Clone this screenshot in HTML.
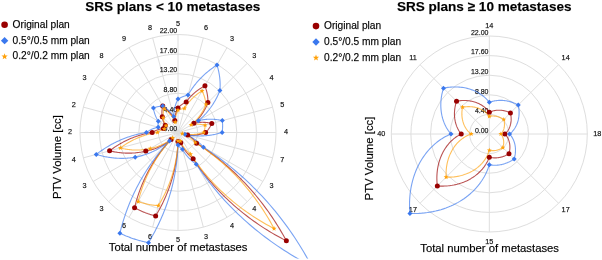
<!DOCTYPE html>
<html><head><meta charset="utf-8"><style>html,body{margin:0;padding:0;background:#fff;width:602px;height:260px;overflow:hidden}svg{display:block;will-change:transform}text{stroke:#000;stroke-width:0.25px;stroke-opacity:0.6}</style></head>
<body><svg width="602" height="260" viewBox="0 0 602 260" font-family='"Liberation Sans", sans-serif'>
<rect width="602" height="260" fill="#fff"/>
<circle cx="178.0" cy="132.5" r="19.60" fill="none" stroke="#dedede" stroke-width="1"/>
<circle cx="178.0" cy="132.5" r="39.20" fill="none" stroke="#dedede" stroke-width="1"/>
<circle cx="178.0" cy="132.5" r="58.80" fill="none" stroke="#dedede" stroke-width="1"/>
<circle cx="178.0" cy="132.5" r="78.40" fill="none" stroke="#dedede" stroke-width="1"/>
<circle cx="178.0" cy="132.5" r="98.00" fill="none" stroke="#dedede" stroke-width="1"/>
<line x1="178.0" y1="132.5" x2="178.00" y2="34.50" stroke="#dedede" stroke-width="1"/>
<line x1="178.0" y1="132.5" x2="203.36" y2="37.84" stroke="#dedede" stroke-width="1"/>
<line x1="178.0" y1="132.5" x2="227.00" y2="47.63" stroke="#dedede" stroke-width="1"/>
<line x1="178.0" y1="132.5" x2="247.30" y2="63.20" stroke="#dedede" stroke-width="1"/>
<line x1="178.0" y1="132.5" x2="262.87" y2="83.50" stroke="#dedede" stroke-width="1"/>
<line x1="178.0" y1="132.5" x2="272.66" y2="107.14" stroke="#dedede" stroke-width="1"/>
<line x1="178.0" y1="132.5" x2="276.00" y2="132.50" stroke="#dedede" stroke-width="1"/>
<line x1="178.0" y1="132.5" x2="272.66" y2="157.86" stroke="#dedede" stroke-width="1"/>
<line x1="178.0" y1="132.5" x2="262.87" y2="181.50" stroke="#dedede" stroke-width="1"/>
<line x1="178.0" y1="132.5" x2="247.30" y2="201.80" stroke="#dedede" stroke-width="1"/>
<line x1="178.0" y1="132.5" x2="227.00" y2="217.37" stroke="#dedede" stroke-width="1"/>
<line x1="178.0" y1="132.5" x2="203.36" y2="227.16" stroke="#dedede" stroke-width="1"/>
<line x1="178.0" y1="132.5" x2="178.00" y2="230.50" stroke="#dedede" stroke-width="1"/>
<line x1="178.0" y1="132.5" x2="152.64" y2="227.16" stroke="#dedede" stroke-width="1"/>
<line x1="178.0" y1="132.5" x2="129.00" y2="217.37" stroke="#dedede" stroke-width="1"/>
<line x1="178.0" y1="132.5" x2="108.70" y2="201.80" stroke="#dedede" stroke-width="1"/>
<line x1="178.0" y1="132.5" x2="93.13" y2="181.50" stroke="#dedede" stroke-width="1"/>
<line x1="178.0" y1="132.5" x2="83.34" y2="157.86" stroke="#dedede" stroke-width="1"/>
<line x1="178.0" y1="132.5" x2="80.00" y2="132.50" stroke="#dedede" stroke-width="1"/>
<line x1="178.0" y1="132.5" x2="83.34" y2="107.14" stroke="#dedede" stroke-width="1"/>
<line x1="178.0" y1="132.5" x2="93.13" y2="83.50" stroke="#dedede" stroke-width="1"/>
<line x1="178.0" y1="132.5" x2="108.70" y2="63.20" stroke="#dedede" stroke-width="1"/>
<line x1="178.0" y1="132.5" x2="129.00" y2="47.63" stroke="#dedede" stroke-width="1"/>
<line x1="178.0" y1="132.5" x2="152.64" y2="37.84" stroke="#dedede" stroke-width="1"/>
<text x="177.20" y="131.20" text-anchor="end" font-size="7" fill="#141414">0.00</text>
<text x="177.20" y="111.60" text-anchor="end" font-size="7" fill="#141414">4.40</text>
<text x="177.20" y="92.00" text-anchor="end" font-size="7" fill="#141414">8.80</text>
<text x="177.20" y="72.40" text-anchor="end" font-size="7" fill="#141414">13.20</text>
<text x="177.20" y="52.80" text-anchor="end" font-size="7" fill="#141414">17.60</text>
<text x="177.20" y="33.20" text-anchor="end" font-size="7" fill="#141414">22.00</text>
<text x="178.00" y="26.45" text-anchor="middle" font-size="7.3" fill="#141414">5</text>
<text x="205.95" y="30.13" text-anchor="middle" font-size="7.3" fill="#141414">6</text>
<text x="232.00" y="40.92" text-anchor="middle" font-size="7.3" fill="#141414">3</text>
<text x="254.37" y="58.08" text-anchor="middle" font-size="7.3" fill="#141414">3</text>
<text x="271.53" y="80.45" text-anchor="middle" font-size="7.3" fill="#141414">4</text>
<text x="282.32" y="106.50" text-anchor="middle" font-size="7.3" fill="#141414">5</text>
<text x="286.00" y="134.45" text-anchor="middle" font-size="7.3" fill="#141414">4</text>
<text x="282.32" y="162.40" text-anchor="middle" font-size="7.3" fill="#141414">7</text>
<text x="271.53" y="188.45" text-anchor="middle" font-size="7.3" fill="#141414">3</text>
<text x="254.37" y="210.82" text-anchor="middle" font-size="7.3" fill="#141414">4</text>
<text x="232.00" y="227.98" text-anchor="middle" font-size="7.3" fill="#141414">4</text>
<text x="205.95" y="238.77" text-anchor="middle" font-size="7.3" fill="#141414">3</text>
<text x="178.00" y="242.45" text-anchor="middle" font-size="7.3" fill="#141414">5</text>
<text x="150.05" y="238.77" text-anchor="middle" font-size="7.3" fill="#141414">6</text>
<text x="124.00" y="227.98" text-anchor="middle" font-size="7.3" fill="#141414">6</text>
<text x="101.63" y="210.82" text-anchor="middle" font-size="7.3" fill="#141414">3</text>
<text x="84.47" y="188.45" text-anchor="middle" font-size="7.3" fill="#141414">3</text>
<text x="73.68" y="162.40" text-anchor="middle" font-size="7.3" fill="#141414">4</text>
<text x="70.00" y="134.45" text-anchor="middle" font-size="7.3" fill="#141414">2</text>
<text x="73.68" y="106.50" text-anchor="middle" font-size="7.3" fill="#141414">2</text>
<text x="84.47" y="80.45" text-anchor="middle" font-size="7.3" fill="#141414">3</text>
<text x="101.63" y="58.08" text-anchor="middle" font-size="7.3" fill="#141414">8</text>
<text x="124.00" y="40.92" text-anchor="middle" font-size="7.3" fill="#141414">9</text>
<text x="150.05" y="30.13" text-anchor="middle" font-size="7.3" fill="#141414">8</text>
<path d="M178.00,108.00 L178.16,107.82 L178.33,107.65 L178.49,107.47 L178.66,107.30 L178.83,107.12 L179.00,106.95 L179.18,106.78 L179.36,106.61 L179.54,106.44 L179.72,106.27 L179.90,106.11 L180.09,105.94 L180.28,105.78 L180.47,105.62 L180.66,105.46 L180.86,105.30 L181.06,105.14 L181.26,104.98 L181.46,104.83 L181.66,104.68 L181.87,104.52 L182.08,104.37 L182.29,104.23 L182.50,104.08 L182.72,103.93 L182.93,103.79 L183.15,103.65 L183.37,103.50 L183.60,103.37 L183.82,103.23 L184.05,103.09 L184.28,102.96 L184.51,102.83 L184.74,102.70 L184.98,102.57 L185.22,102.44 L185.46,102.31 L185.70,102.19 L185.94,102.07 L186.19,101.95 L186.53,101.47 L186.89,100.99 L187.25,100.51 L187.62,100.04 L187.99,99.57 L188.37,99.10 L188.76,98.64 L189.15,98.18 L189.55,97.73 L189.96,97.28 L190.37,96.83 L190.79,96.39 L191.21,95.95 L191.64,95.51 L192.08,95.08 L192.53,94.66 L192.98,94.23 L193.43,93.82 L193.90,93.40 L194.36,92.99 L194.84,92.59 L195.32,92.19 L195.81,91.79 L196.30,91.40 L196.80,91.01 L197.30,90.63 L197.81,90.25 L198.33,89.88 L198.85,89.51 L199.38,89.15 L199.91,88.80 L200.45,88.44 L200.99,88.10 L201.54,87.76 L202.10,87.42 L202.66,87.09 L203.22,86.76 L203.79,86.44 L204.37,86.13 L204.95,85.82 L205.11,86.25 L205.26,86.68 L205.41,87.10 L205.56,87.53 L205.70,87.96 L205.83,88.38 L205.97,88.81 L206.09,89.24 L206.22,89.66 L206.34,90.09 L206.45,90.52 L206.56,90.94 L206.67,91.37 L206.77,91.79 L206.87,92.22 L206.96,92.64 L207.05,93.07 L207.13,93.49 L207.21,93.91 L207.29,94.33 L207.36,94.75 L207.43,95.17 L207.49,95.59 L207.55,96.01 L207.60,96.43 L207.65,96.85 L207.70,97.26 L207.74,97.68 L207.78,98.09 L207.81,98.51 L207.84,98.92 L207.87,99.33 L207.89,99.74 L207.90,100.15 L207.92,100.56 L207.93,100.96 L207.93,101.37 L207.93,101.77 L207.93,102.18 L207.92,102.58 L207.69,103.20 L207.45,103.81 L207.20,104.42 L206.95,105.03 L206.69,105.63 L206.43,106.22 L206.15,106.82 L205.87,107.40 L205.59,107.99 L205.30,108.56 L205.00,109.14 L204.69,109.70 L204.38,110.27 L204.06,110.82 L203.74,111.38 L203.41,111.92 L203.07,112.47 L202.73,113.00 L202.38,113.53 L202.03,114.06 L201.67,114.58 L201.31,115.10 L200.94,115.61 L200.56,116.11 L200.18,116.61 L199.79,117.10 L199.40,117.59 L199.00,118.07 L198.59,118.54 L198.19,119.01 L197.77,119.48 L197.35,119.93 L196.93,120.38 L196.50,120.83 L196.06,121.27 L195.62,121.70 L195.18,122.13 L194.73,122.55 L194.28,122.96 L193.82,123.37 L194.24,123.27 L194.66,123.17 L195.09,123.08 L195.52,122.99 L195.95,122.91 L196.38,122.83 L196.81,122.76 L197.25,122.69 L197.69,122.63 L198.13,122.58 L198.57,122.52 L199.01,122.48 L199.45,122.44 L199.90,122.41 L200.34,122.38 L200.79,122.35 L201.24,122.34 L201.69,122.32 L202.14,122.32 L202.59,122.31 L203.04,122.32 L203.50,122.33 L203.95,122.34 L204.41,122.36 L204.86,122.39 L205.32,122.42 L205.78,122.46 L206.24,122.50 L206.70,122.55 L207.16,122.60 L207.62,122.66 L208.08,122.73 L208.54,122.80 L209.00,122.87 L209.46,122.96 L209.93,123.04 L210.39,123.14 L210.85,123.23 L211.31,123.34 L211.78,123.45 L211.66,123.72 L211.54,123.98 L211.41,124.25 L211.29,124.51 L211.16,124.77 L211.03,125.03 L210.90,125.28 L210.77,125.54 L210.63,125.79 L210.49,126.04 L210.36,126.28 L210.21,126.53 L210.07,126.77 L209.93,127.01 L209.78,127.25 L209.63,127.49 L209.48,127.72 L209.33,127.96 L209.18,128.19 L209.03,128.42 L208.87,128.64 L208.71,128.87 L208.55,129.09 L208.39,129.31 L208.23,129.52 L208.06,129.74 L207.90,129.95 L207.73,130.16 L207.56,130.37 L207.39,130.57 L207.22,130.78 L207.05,130.98 L206.87,131.18 L206.70,131.37 L206.52,131.57 L206.34,131.76 L206.16,131.95 L205.98,132.13 L205.80,132.32 L205.62,132.50 L205.18,132.68 L204.74,132.85 L204.29,133.02 L203.85,133.18 L203.41,133.33 L202.96,133.48 L202.51,133.62 L202.07,133.76 L201.62,133.89 L201.17,134.02 L200.72,134.14 L200.27,134.25 L199.82,134.36 L199.37,134.46 L198.92,134.56 L198.47,134.65 L198.02,134.74 L197.56,134.82 L197.11,134.89 L196.66,134.96 L196.21,135.02 L195.76,135.07 L195.30,135.12 L194.85,135.17 L194.40,135.21 L193.95,135.24 L193.50,135.27 L193.05,135.29 L192.59,135.30 L192.14,135.31 L191.69,135.32 L191.25,135.32 L190.80,135.31 L190.35,135.29 L189.90,135.28 L189.46,135.25 L189.01,135.22 L188.57,135.18 L188.12,135.14 L187.68,135.09 L187.94,135.23 L188.19,135.37 L188.45,135.52 L188.70,135.67 L188.95,135.82 L189.20,135.98 L189.45,136.14 L189.69,136.30 L189.94,136.47 L190.18,136.63 L190.42,136.81 L190.66,136.98 L190.90,137.16 L191.13,137.35 L191.37,137.53 L191.60,137.72 L191.83,137.91 L192.06,138.11 L192.28,138.31 L192.51,138.51 L192.73,138.71 L192.95,138.92 L193.17,139.13 L193.38,139.35 L193.60,139.57 L193.81,139.79 L194.02,140.01 L194.22,140.24 L194.43,140.47 L194.63,140.70 L194.83,140.94 L195.03,141.18 L195.22,141.42 L195.41,141.66 L195.60,141.91 L195.79,142.16 L195.98,142.41 L196.16,142.67 L196.34,142.93 L196.52,143.19 L199.29,144.98 L202.04,146.80 L204.77,148.66 L207.47,150.56 L210.15,152.49 L212.81,154.46 L215.44,156.47 L218.05,158.51 L220.63,160.58 L223.19,162.69 L225.72,164.84 L228.22,167.02 L230.70,169.23 L233.15,171.48 L235.57,173.76 L237.97,176.07 L240.33,178.42 L242.67,180.79 L244.99,183.21 L247.27,185.65 L249.52,188.13 L251.74,190.63 L253.94,193.17 L256.10,195.74 L258.23,198.34 L260.33,200.98 L262.40,203.64 L264.44,206.33 L266.45,209.05 L268.43,211.80 L270.37,214.58 L272.28,217.39 L274.16,220.23 L276.00,223.09 L277.81,225.98 L279.59,228.90 L281.33,231.85 L283.04,234.83 L284.72,237.83 L286.35,240.85 L283.48,239.37 L280.64,237.86 L277.82,236.31 L275.02,234.74 L272.25,233.13 L269.50,231.48 L266.78,229.81 L264.08,228.10 L261.41,226.37 L258.77,224.60 L256.15,222.80 L253.57,220.98 L251.00,219.12 L248.47,217.23 L245.96,215.31 L243.49,213.37 L241.04,211.39 L238.62,209.39 L236.22,207.36 L233.86,205.30 L231.53,203.21 L229.23,201.10 L226.95,198.96 L224.71,196.79 L222.50,194.60 L220.32,192.38 L218.17,190.13 L216.05,187.86 L213.96,185.56 L211.90,183.24 L209.88,180.90 L207.89,178.53 L205.93,176.13 L204.00,173.71 L202.11,171.27 L200.25,168.81 L198.42,166.32 L196.63,163.82 L194.87,161.28 L193.15,158.73 L192.73,158.41 L192.32,158.07 L191.92,157.74 L191.52,157.40 L191.12,157.05 L190.73,156.71 L190.35,156.35 L189.97,156.00 L189.60,155.64 L189.23,155.27 L188.87,154.90 L188.51,154.53 L188.16,154.16 L187.81,153.78 L187.47,153.40 L187.13,153.01 L186.80,152.62 L186.48,152.23 L186.16,151.83 L185.84,151.43 L185.53,151.03 L185.23,150.62 L184.93,150.21 L184.64,149.80 L184.35,149.38 L184.07,148.97 L183.80,148.54 L183.53,148.12 L183.27,147.69 L183.01,147.26 L182.76,146.83 L182.52,146.40 L182.28,145.96 L182.04,145.52 L181.81,145.08 L181.59,144.63 L181.38,144.18 L181.17,143.73 L180.96,143.28 L180.77,142.83 L180.69,142.80 L180.61,142.78 L180.53,142.75 L180.45,142.72 L180.38,142.69 L180.30,142.67 L180.22,142.64 L180.15,142.61 L180.07,142.58 L180.00,142.55 L179.92,142.52 L179.85,142.49 L179.78,142.45 L179.70,142.42 L179.63,142.39 L179.56,142.36 L179.49,142.32 L179.42,142.29 L179.35,142.25 L179.28,142.22 L179.21,142.18 L179.14,142.14 L179.07,142.11 L179.01,142.07 L178.94,142.03 L178.87,141.99 L178.81,141.95 L178.74,141.91 L178.68,141.87 L178.61,141.83 L178.55,141.79 L178.48,141.75 L178.42,141.71 L178.36,141.67 L178.30,141.63 L178.24,141.58 L178.18,141.54 L178.12,141.50 L178.06,141.45 L178.00,141.41 L177.93,143.35 L177.83,145.28 L177.71,147.22 L177.56,149.15 L177.39,151.09 L177.19,153.02 L176.97,154.95 L176.72,156.88 L176.45,158.80 L176.15,160.73 L175.83,162.65 L175.48,164.56 L175.10,166.48 L174.70,168.39 L174.28,170.29 L173.83,172.19 L173.35,174.09 L172.85,175.98 L172.33,177.87 L171.78,179.76 L171.20,181.63 L170.60,183.51 L169.98,185.37 L169.33,187.23 L168.66,189.09 L167.96,190.93 L167.24,192.77 L166.49,194.61 L165.72,196.43 L164.92,198.25 L164.10,200.06 L163.26,201.87 L162.39,203.66 L161.49,205.45 L160.58,207.23 L159.64,208.99 L158.67,210.75 L157.68,212.50 L156.67,214.24 L155.63,215.97 L155.08,215.84 L154.54,215.70 L153.99,215.55 L153.44,215.40 L152.90,215.25 L152.35,215.09 L151.81,214.94 L151.27,214.77 L150.73,214.61 L150.19,214.44 L149.65,214.26 L149.11,214.09 L148.57,213.91 L148.04,213.72 L147.50,213.54 L146.97,213.34 L146.43,213.15 L145.90,212.95 L145.37,212.75 L144.84,212.55 L144.32,212.34 L143.79,212.13 L143.27,211.91 L142.74,211.69 L142.22,211.47 L141.70,211.24 L141.18,211.01 L140.66,210.78 L140.15,210.55 L139.63,210.31 L139.12,210.06 L138.61,209.82 L138.09,209.57 L137.59,209.31 L137.08,209.06 L136.57,208.80 L136.07,208.54 L135.57,208.27 L135.07,208.00 L134.57,207.73 L135.05,205.78 L135.56,203.84 L136.09,201.91 L136.64,199.99 L137.22,198.08 L137.82,196.19 L138.44,194.30 L139.09,192.42 L139.75,190.56 L140.44,188.71 L141.16,186.86 L141.89,185.03 L142.65,183.22 L143.43,181.41 L144.24,179.62 L145.06,177.84 L145.91,176.07 L146.78,174.31 L147.67,172.57 L148.58,170.84 L149.51,169.13 L150.46,167.43 L151.44,165.74 L152.43,164.07 L153.45,162.41 L154.49,160.77 L155.54,159.14 L156.62,157.53 L157.72,155.93 L158.84,154.35 L159.97,152.79 L161.13,151.24 L162.31,149.70 L163.50,148.18 L164.72,146.68 L165.95,145.20 L167.20,143.73 L168.47,142.28 L169.76,140.85 L171.07,139.43 L170.54,139.87 L170.00,140.29 L169.45,140.72 L168.90,141.13 L168.35,141.54 L167.79,141.94 L167.22,142.34 L166.65,142.72 L166.07,143.10 L165.48,143.48 L164.89,143.84 L164.30,144.20 L163.70,144.55 L163.09,144.90 L162.48,145.23 L161.87,145.56 L161.25,145.89 L160.62,146.20 L159.99,146.51 L159.36,146.80 L158.72,147.10 L158.07,147.38 L157.43,147.65 L156.77,147.92 L156.12,148.18 L155.45,148.43 L154.79,148.68 L154.12,148.91 L153.45,149.14 L152.77,149.36 L152.09,149.57 L151.40,149.77 L150.71,149.97 L150.02,150.16 L149.32,150.33 L148.62,150.50 L147.92,150.66 L147.21,150.82 L146.50,150.96 L145.79,151.10 L144.94,151.30 L144.08,151.50 L143.22,151.68 L142.36,151.85 L141.49,152.02 L140.62,152.17 L139.74,152.31 L138.87,152.44 L137.98,152.56 L137.10,152.67 L136.21,152.77 L135.32,152.86 L134.43,152.93 L133.53,153.00 L132.63,153.06 L131.73,153.10 L130.83,153.13 L129.92,153.16 L129.01,153.17 L128.10,153.17 L127.19,153.16 L126.27,153.14 L125.35,153.10 L124.44,153.06 L123.52,153.01 L122.59,152.94 L121.67,152.86 L120.75,152.77 L119.82,152.67 L118.89,152.56 L117.97,152.44 L117.04,152.31 L116.11,152.16 L115.18,152.01 L114.25,151.84 L113.31,151.66 L112.38,151.47 L111.45,151.27 L110.52,151.06 L109.59,150.83 L110.56,150.10 L111.53,149.38 L112.52,148.68 L113.50,147.98 L114.50,147.31 L115.50,146.64 L116.51,145.99 L117.52,145.35 L118.54,144.73 L119.57,144.12 L120.60,143.53 L121.63,142.95 L122.67,142.38 L123.72,141.83 L124.76,141.29 L125.82,140.76 L126.88,140.25 L127.94,139.76 L129.01,139.28 L130.08,138.81 L131.16,138.36 L132.24,137.92 L133.32,137.49 L134.41,137.08 L135.50,136.69 L136.59,136.30 L137.69,135.94 L138.79,135.59 L139.89,135.25 L141.00,134.93 L142.10,134.62 L143.21,134.32 L144.33,134.04 L145.44,133.78 L146.56,133.53 L147.67,133.29 L148.79,133.07 L149.92,132.87 L151.04,132.68 L152.16,132.50 L152.43,132.33 L152.70,132.17 L152.97,132.01 L153.24,131.85 L153.51,131.70 L153.79,131.55 L154.06,131.40 L154.33,131.26 L154.61,131.12 L154.89,130.99 L155.16,130.85 L155.44,130.72 L155.72,130.60 L156.00,130.48 L156.28,130.36 L156.56,130.25 L156.84,130.14 L157.12,130.03 L157.40,129.93 L157.68,129.83 L157.97,129.73 L158.25,129.64 L158.53,129.55 L158.82,129.46 L159.10,129.38 L159.39,129.30 L159.67,129.23 L159.95,129.16 L160.24,129.09 L160.52,129.02 L160.81,128.96 L161.09,128.91 L161.38,128.85 L161.66,128.80 L161.95,128.76 L162.23,128.71 L162.52,128.68 L162.80,128.64 L163.09,128.61 L163.37,128.58 L163.41,128.49 L163.44,128.39 L163.48,128.30 L163.52,128.21 L163.56,128.12 L163.60,128.03 L163.64,127.94 L163.68,127.85 L163.72,127.76 L163.76,127.67 L163.81,127.58 L163.85,127.49 L163.89,127.40 L163.94,127.31 L163.98,127.22 L164.03,127.14 L164.07,127.05 L164.12,126.96 L164.17,126.88 L164.21,126.79 L164.26,126.70 L164.31,126.62 L164.36,126.53 L164.41,126.45 L164.46,126.36 L164.51,126.28 L164.56,126.20 L164.61,126.11 L164.66,126.03 L164.72,125.95 L164.77,125.87 L164.82,125.79 L164.88,125.70 L164.93,125.62 L164.99,125.54 L165.04,125.46 L165.10,125.39 L165.15,125.31 L165.21,125.23 L165.27,125.15 L165.15,124.97 L165.04,124.79 L164.93,124.61 L164.82,124.42 L164.71,124.24 L164.61,124.05 L164.50,123.86 L164.40,123.67 L164.30,123.48 L164.20,123.28 L164.11,123.09 L164.01,122.89 L163.92,122.69 L163.83,122.49 L163.74,122.28 L163.66,122.08 L163.57,121.87 L163.49,121.67 L163.41,121.46 L163.33,121.25 L163.26,121.03 L163.18,120.82 L163.11,120.61 L163.04,120.39 L162.98,120.17 L162.91,119.95 L162.85,119.73 L162.79,119.51 L162.73,119.29 L162.68,119.06 L162.62,118.84 L162.57,118.61 L162.53,118.38 L162.48,118.15 L162.43,117.92 L162.39,117.69 L162.35,117.46 L162.32,117.22 L162.28,116.99 L162.25,116.75 L162.21,116.50 L162.17,116.25 L162.13,116.00 L162.10,115.75 L162.07,115.49 L162.04,115.24 L162.02,114.98 L161.99,114.72 L161.97,114.46 L161.96,114.21 L161.94,113.95 L161.93,113.68 L161.92,113.42 L161.91,113.16 L161.91,112.89 L161.91,112.63 L161.91,112.36 L161.92,112.10 L161.92,111.83 L161.93,111.56 L161.95,111.29 L161.96,111.02 L161.98,110.75 L162.00,110.48 L162.03,110.21 L162.05,109.94 L162.08,109.66 L162.12,109.39 L162.15,109.12 L162.19,108.84 L162.23,108.57 L162.28,108.29 L162.33,108.02 L162.38,107.74 L162.43,107.46 L162.49,107.19 L162.55,106.91 L162.61,106.63 L162.67,106.35 L162.74,106.07 L163.14,106.37 L163.53,106.66 L163.92,106.96 L164.30,107.27 L164.68,107.58 L165.05,107.89 L165.42,108.21 L165.79,108.53 L166.14,108.85 L166.50,109.18 L166.85,109.51 L167.19,109.84 L167.53,110.18 L167.87,110.52 L168.20,110.87 L168.52,111.22 L168.84,111.57 L169.16,111.92 L169.47,112.28 L169.77,112.64 L170.07,113.01 L170.37,113.37 L170.66,113.75 L170.94,114.12 L171.22,114.49 L171.50,114.87 L171.77,115.26 L172.03,115.64 L172.29,116.03 L172.54,116.42 L172.79,116.81 L173.03,117.21 L173.27,117.60 L173.50,118.00 L173.72,118.41 L173.95,118.81 L174.16,119.22 L174.37,119.63 L174.57,120.04 L174.77,120.45 L174.77,120.14 L174.78,119.83 L174.79,119.52 L174.81,119.20 L174.83,118.89 L174.85,118.58 L174.88,118.26 L174.91,117.95 L174.94,117.63 L174.98,117.32 L175.02,117.00 L175.07,116.69 L175.12,116.37 L175.17,116.06 L175.23,115.74 L175.30,115.43 L175.36,115.11 L175.43,114.80 L175.51,114.49 L175.59,114.17 L175.67,113.86 L175.76,113.54 L175.85,113.23 L175.94,112.92 L176.04,112.61 L176.14,112.29 L176.25,111.98 L176.36,111.67 L176.48,111.36 L176.59,111.05 L176.72,110.74 L176.84,110.44 L176.97,110.13 L177.11,109.82 L177.25,109.52 L177.39,109.21 L177.54,108.91 L177.69,108.60 L177.84,108.30 L178.00,108.00" fill="none" stroke="#990000" stroke-width="1.1" stroke-opacity="0.68" stroke-linejoin="round"/>
<path d="M178.00,99.09 L178.22,98.96 L178.44,98.83 L178.66,98.70 L178.89,98.57 L179.11,98.44 L179.34,98.32 L179.57,98.19 L179.80,98.07 L180.04,97.95 L180.27,97.83 L180.51,97.71 L180.75,97.60 L180.99,97.48 L181.23,97.37 L181.47,97.26 L181.72,97.15 L181.96,97.04 L182.21,96.93 L182.46,96.83 L182.71,96.73 L182.96,96.63 L183.22,96.53 L183.47,96.43 L183.73,96.33 L183.99,96.24 L184.25,96.15 L184.51,96.06 L184.77,95.97 L185.03,95.89 L185.30,95.80 L185.57,95.72 L185.84,95.64 L186.10,95.56 L186.38,95.48 L186.65,95.41 L186.92,95.34 L187.20,95.27 L187.47,95.20 L187.75,95.13 L188.03,95.07 L188.54,94.19 L189.05,93.31 L189.58,92.45 L190.12,91.58 L190.67,90.73 L191.24,89.87 L191.81,89.03 L192.40,88.19 L193.00,87.35 L193.61,86.52 L194.23,85.70 L194.86,84.88 L195.51,84.07 L196.16,83.27 L196.83,82.47 L197.51,81.68 L198.20,80.90 L198.90,80.12 L199.61,79.35 L200.33,78.59 L201.06,77.83 L201.81,77.08 L202.56,76.34 L203.33,75.61 L204.11,74.88 L204.89,74.17 L205.69,73.46 L206.50,72.75 L207.32,72.06 L208.14,71.37 L208.98,70.70 L209.83,70.03 L210.69,69.37 L211.56,68.71 L212.44,68.07 L213.33,67.44 L214.22,66.81 L215.13,66.20 L216.05,65.59 L216.98,64.99 L217.18,65.65 L217.38,66.31 L217.57,66.97 L217.75,67.63 L217.93,68.29 L218.10,68.95 L218.26,69.60 L218.42,70.26 L218.57,70.92 L218.71,71.57 L218.85,72.23 L218.97,72.88 L219.10,73.53 L219.21,74.19 L219.32,74.84 L219.42,75.49 L219.52,76.14 L219.60,76.78 L219.69,77.43 L219.76,78.08 L219.83,78.72 L219.89,79.36 L219.95,80.00 L219.99,80.64 L220.04,81.28 L220.07,81.92 L220.10,82.55 L220.12,83.18 L220.14,83.81 L220.15,84.44 L220.15,85.07 L220.15,85.69 L220.14,86.31 L220.12,86.93 L220.10,87.55 L220.07,88.17 L220.03,88.78 L219.99,89.39 L219.95,90.00 L219.89,90.61 L219.53,91.51 L219.16,92.40 L218.78,93.29 L218.39,94.17 L217.99,95.05 L217.58,95.91 L217.16,96.77 L216.73,97.63 L216.29,98.47 L215.84,99.31 L215.39,100.14 L214.92,100.97 L214.45,101.78 L213.96,102.59 L213.47,103.39 L212.96,104.19 L212.45,104.97 L211.93,105.75 L211.40,106.52 L210.87,107.28 L210.32,108.03 L209.77,108.78 L209.20,109.52 L208.63,110.24 L208.05,110.96 L207.47,111.68 L206.87,112.38 L206.27,113.07 L205.66,113.76 L205.04,114.43 L204.41,115.10 L203.78,115.76 L203.14,116.41 L202.49,117.05 L201.83,117.68 L201.17,118.30 L200.50,118.91 L199.82,119.52 L199.14,120.11 L198.45,120.70 L199.01,120.55 L199.57,120.42 L200.14,120.29 L200.71,120.17 L201.28,120.06 L201.85,119.95 L202.43,119.85 L203.00,119.76 L203.59,119.67 L204.17,119.60 L204.75,119.52 L205.34,119.46 L205.93,119.40 L206.52,119.35 L207.11,119.31 L207.71,119.27 L208.30,119.25 L208.90,119.22 L209.50,119.21 L210.10,119.20 L210.70,119.20 L211.31,119.21 L211.91,119.23 L212.52,119.25 L213.12,119.28 L213.73,119.32 L214.34,119.36 L214.95,119.41 L215.56,119.47 L216.17,119.54 L216.79,119.62 L217.40,119.70 L218.01,119.79 L218.63,119.88 L219.24,119.99 L219.86,120.10 L220.47,120.22 L221.09,120.35 L221.70,120.48 L222.32,120.62 L222.35,120.93 L222.38,121.23 L222.41,121.53 L222.44,121.83 L222.47,122.13 L222.49,122.43 L222.51,122.73 L222.53,123.03 L222.55,123.34 L222.56,123.64 L222.58,123.94 L222.59,124.24 L222.60,124.54 L222.60,124.84 L222.61,125.13 L222.61,125.43 L222.61,125.73 L222.61,126.03 L222.61,126.33 L222.61,126.63 L222.60,126.93 L222.59,127.22 L222.58,127.52 L222.57,127.82 L222.55,128.11 L222.54,128.41 L222.52,128.70 L222.50,129.00 L222.47,129.29 L222.45,129.59 L222.42,129.88 L222.40,130.17 L222.37,130.47 L222.33,130.76 L222.30,131.05 L222.26,131.34 L222.23,131.63 L222.19,131.92 L222.14,132.21 L222.10,132.50 L221.17,132.78 L220.25,133.05 L219.32,133.31 L218.39,133.56 L217.46,133.79 L216.52,134.01 L215.59,134.22 L214.66,134.42 L213.72,134.61 L212.78,134.78 L211.84,134.94 L210.91,135.09 L209.97,135.23 L209.03,135.35 L208.09,135.46 L207.15,135.56 L206.21,135.65 L205.27,135.73 L204.33,135.79 L203.39,135.84 L202.46,135.88 L201.52,135.91 L200.58,135.93 L199.65,135.93 L198.71,135.92 L197.78,135.90 L196.85,135.87 L195.91,135.82 L194.98,135.76 L194.06,135.69 L193.13,135.61 L192.20,135.52 L191.28,135.41 L190.36,135.30 L189.44,135.17 L188.53,135.03 L187.61,134.87 L186.70,134.71 L185.79,134.53 L184.88,134.34 L185.41,134.54 L185.93,134.74 L186.45,134.94 L186.97,135.16 L187.48,135.38 L188.00,135.60 L188.51,135.84 L189.01,136.08 L189.52,136.33 L190.02,136.58 L190.52,136.84 L191.02,137.11 L191.51,137.38 L192.00,137.67 L192.49,137.95 L192.97,138.25 L193.45,138.55 L193.93,138.86 L194.40,139.17 L194.87,139.49 L195.34,139.82 L195.80,140.15 L196.26,140.49 L196.72,140.83 L197.17,141.19 L197.62,141.54 L198.06,141.91 L198.51,142.28 L198.94,142.66 L199.37,143.04 L199.80,143.43 L200.23,143.82 L200.65,144.23 L201.06,144.63 L201.47,145.05 L201.88,145.47 L202.28,145.89 L202.68,146.32 L203.07,146.76 L203.46,147.20 L206.80,149.38 L210.12,151.61 L213.41,153.88 L216.66,156.19 L219.89,158.55 L223.09,160.95 L226.27,163.40 L229.41,165.88 L232.52,168.41 L235.59,170.98 L238.64,173.60 L241.66,176.25 L244.64,178.95 L247.59,181.68 L250.51,184.46 L253.39,187.28 L256.24,190.13 L259.06,193.03 L261.84,195.96 L264.58,198.94 L267.29,201.95 L269.97,205.00 L272.61,208.09 L275.21,211.22 L277.77,214.38 L280.30,217.58 L282.79,220.82 L285.24,224.09 L287.65,227.40 L290.03,230.75 L292.36,234.12 L294.66,237.54 L296.91,240.99 L299.13,244.47 L301.30,247.99 L303.44,251.53 L305.53,255.12 L307.58,258.73 L309.59,262.38 L311.55,266.05 L308.00,264.21 L304.48,262.33 L300.99,260.41 L297.52,258.45 L294.09,256.45 L290.70,254.41 L287.33,252.33 L283.99,250.22 L280.69,248.06 L277.42,245.87 L274.18,243.64 L270.98,241.37 L267.81,239.06 L264.68,236.72 L261.58,234.34 L258.51,231.92 L255.48,229.47 L252.49,226.99 L249.53,224.47 L246.61,221.91 L243.72,219.32 L240.87,216.70 L238.06,214.04 L235.29,211.35 L232.55,208.63 L229.86,205.87 L227.20,203.09 L224.58,200.27 L221.99,197.42 L219.45,194.54 L216.95,191.63 L214.49,188.69 L212.07,185.72 L209.69,182.72 L207.34,179.69 L205.05,176.63 L202.79,173.55 L200.57,170.44 L198.40,167.30 L196.26,164.13 L195.82,163.84 L195.38,163.53 L194.95,163.23 L194.52,162.92 L194.09,162.60 L193.67,162.28 L193.25,161.96 L192.84,161.63 L192.44,161.30 L192.04,160.97 L191.64,160.63 L191.25,160.28 L190.87,159.93 L190.49,159.58 L190.11,159.23 L189.74,158.87 L189.38,158.51 L189.02,158.14 L188.66,157.77 L188.31,157.40 L187.97,157.02 L187.63,156.64 L187.30,156.26 L186.97,155.87 L186.65,155.48 L186.33,155.09 L186.02,154.69 L185.72,154.29 L185.42,153.89 L185.12,153.49 L184.84,153.08 L184.55,152.67 L184.28,152.25 L184.00,151.84 L183.74,151.42 L183.48,150.99 L183.22,150.57 L182.98,150.14 L182.73,149.71 L182.50,149.28 L182.36,149.19 L182.22,149.10 L182.08,149.01 L181.94,148.92 L181.81,148.82 L181.67,148.73 L181.54,148.63 L181.41,148.53 L181.28,148.44 L181.15,148.34 L181.02,148.24 L180.90,148.14 L180.77,148.03 L180.65,147.93 L180.53,147.83 L180.41,147.72 L180.29,147.62 L180.18,147.51 L180.06,147.40 L179.95,147.30 L179.84,147.19 L179.73,147.08 L179.62,146.97 L179.51,146.85 L179.40,146.74 L179.30,146.63 L179.20,146.51 L179.09,146.40 L178.99,146.28 L178.90,146.17 L178.80,146.05 L178.70,145.93 L178.61,145.82 L178.52,145.70 L178.43,145.58 L178.34,145.46 L178.25,145.34 L178.17,145.22 L178.08,145.09 L178.00,144.97 L177.90,147.51 L177.77,150.05 L177.61,152.59 L177.41,155.12 L177.18,157.65 L176.91,160.19 L176.61,162.71 L176.28,165.24 L175.92,167.76 L175.52,170.28 L175.09,172.80 L174.63,175.31 L174.13,177.82 L173.61,180.32 L173.04,182.82 L172.45,185.31 L171.82,187.79 L171.16,190.27 L170.47,192.75 L169.74,195.21 L168.99,197.67 L168.19,200.13 L167.37,202.57 L166.52,205.01 L165.63,207.44 L164.71,209.86 L163.76,212.27 L162.77,214.67 L161.75,217.06 L160.71,219.44 L159.63,221.81 L158.51,224.18 L157.37,226.53 L156.19,228.87 L154.99,231.19 L153.75,233.51 L152.48,235.81 L151.18,238.11 L149.85,240.38 L148.49,242.65 L147.75,242.51 L147.02,242.36 L146.28,242.21 L145.55,242.05 L144.82,241.89 L144.08,241.73 L143.35,241.55 L142.62,241.38 L141.89,241.20 L141.17,241.01 L140.44,240.82 L139.71,240.63 L138.99,240.42 L138.26,240.22 L137.54,240.01 L136.81,239.79 L136.09,239.57 L135.37,239.35 L134.65,239.12 L133.93,238.88 L133.22,238.65 L132.50,238.40 L131.79,238.15 L131.07,237.90 L130.36,237.64 L129.65,237.38 L128.94,237.11 L128.23,236.83 L127.53,236.56 L126.82,236.27 L126.12,235.99 L125.42,235.69 L124.72,235.40 L124.02,235.10 L123.32,234.79 L122.63,234.48 L121.94,234.16 L121.25,233.84 L120.56,233.52 L119.87,233.19 L120.53,230.56 L121.22,227.94 L121.94,225.33 L122.70,222.74 L123.49,220.17 L124.30,217.60 L125.15,215.06 L126.03,212.52 L126.94,210.00 L127.89,207.50 L128.86,205.02 L129.86,202.54 L130.89,200.09 L131.95,197.65 L133.05,195.23 L134.17,192.83 L135.32,190.44 L136.50,188.07 L137.71,185.72 L138.95,183.39 L140.22,181.08 L141.51,178.78 L142.84,176.51 L144.19,174.25 L145.57,172.01 L146.98,169.80 L148.42,167.60 L149.88,165.42 L151.37,163.27 L152.89,161.13 L154.43,159.02 L156.00,156.93 L157.60,154.86 L159.22,152.81 L160.87,150.79 L162.55,148.79 L164.25,146.81 L165.97,144.85 L167.72,142.91 L169.50,141.00 L168.77,141.61 L168.04,142.20 L167.31,142.78 L166.56,143.35 L165.81,143.92 L165.05,144.47 L164.28,145.02 L163.50,145.56 L162.72,146.08 L161.92,146.60 L161.13,147.10 L160.32,147.60 L159.50,148.09 L158.68,148.57 L157.86,149.03 L157.02,149.49 L156.18,149.93 L155.33,150.37 L154.48,150.80 L153.62,151.21 L152.75,151.62 L151.87,152.01 L150.99,152.39 L150.11,152.77 L149.21,153.13 L148.32,153.48 L147.41,153.82 L146.50,154.15 L145.59,154.47 L144.67,154.77 L143.74,155.07 L142.81,155.35 L141.87,155.63 L140.93,155.89 L139.98,156.14 L139.03,156.38 L138.07,156.61 L137.11,156.82 L136.15,157.03 L135.18,157.22 L134.25,157.38 L133.32,157.52 L132.39,157.65 L131.45,157.77 L130.51,157.88 L129.57,157.98 L128.62,158.07 L127.67,158.14 L126.72,158.21 L125.76,158.26 L124.80,158.30 L123.84,158.33 L122.88,158.35 L121.91,158.36 L120.94,158.35 L119.97,158.34 L119.00,158.31 L118.02,158.27 L117.04,158.22 L116.06,158.16 L115.08,158.08 L114.10,157.99 L113.11,157.90 L112.13,157.79 L111.14,157.66 L110.15,157.53 L109.16,157.39 L108.17,157.23 L107.18,157.06 L106.19,156.88 L105.19,156.68 L104.20,156.48 L103.21,156.26 L102.21,156.03 L101.22,155.79 L100.22,155.54 L99.23,155.27 L98.23,155.00 L97.24,154.71 L96.25,154.41 L97.39,153.54 L98.54,152.68 L99.69,151.84 L100.86,151.02 L102.03,150.21 L103.21,149.42 L104.39,148.65 L105.58,147.89 L106.78,147.15 L107.99,146.43 L109.20,145.72 L110.42,145.03 L111.64,144.35 L112.87,143.69 L114.11,143.05 L115.35,142.42 L116.59,141.81 L117.85,141.22 L119.10,140.65 L120.37,140.09 L121.63,139.55 L122.90,139.02 L124.18,138.51 L125.46,138.02 L126.74,137.55 L128.03,137.09 L129.32,136.65 L130.62,136.23 L131.91,135.82 L133.22,135.44 L134.52,135.06 L135.83,134.71 L137.14,134.37 L138.45,134.05 L139.77,133.75 L141.08,133.47 L142.40,133.20 L143.73,132.95 L145.05,132.72 L146.37,132.50 L146.65,132.29 L146.93,132.09 L147.21,131.90 L147.50,131.70 L147.78,131.51 L148.07,131.32 L148.35,131.14 L148.64,130.96 L148.93,130.79 L149.22,130.61 L149.51,130.45 L149.80,130.28 L150.09,130.12 L150.39,129.96 L150.68,129.81 L150.98,129.66 L151.27,129.51 L151.57,129.37 L151.87,129.23 L152.16,129.10 L152.46,128.97 L152.76,128.84 L153.06,128.72 L153.36,128.60 L153.66,128.48 L153.96,128.37 L154.27,128.26 L154.57,128.16 L154.87,128.06 L155.17,127.96 L155.48,127.87 L155.78,127.78 L156.08,127.69 L156.39,127.61 L156.69,127.53 L156.99,127.46 L157.30,127.39 L157.60,127.32 L157.90,127.26 L158.21,127.20 L158.19,127.05 L158.17,126.91 L158.15,126.76 L158.14,126.62 L158.13,126.47 L158.11,126.32 L158.10,126.18 L158.09,126.03 L158.08,125.88 L158.07,125.73 L158.06,125.59 L158.05,125.44 L158.05,125.29 L158.04,125.14 L158.04,124.99 L158.04,124.84 L158.04,124.69 L158.04,124.54 L158.04,124.38 L158.04,124.23 L158.04,124.08 L158.05,123.93 L158.05,123.78 L158.06,123.62 L158.07,123.47 L158.08,123.32 L158.09,123.16 L158.10,123.01 L158.11,122.85 L158.12,122.70 L158.14,122.54 L158.15,122.39 L158.17,122.23 L158.19,122.08 L158.21,121.92 L158.23,121.77 L158.25,121.61 L158.28,121.45 L158.30,121.30 L158.33,121.14 L158.14,120.86 L157.96,120.58 L157.78,120.29 L157.60,120.00 L157.43,119.71 L157.26,119.41 L157.09,119.12 L156.93,118.82 L156.77,118.51 L156.61,118.21 L156.46,117.90 L156.30,117.59 L156.16,117.27 L156.01,116.96 L155.87,116.64 L155.73,116.32 L155.59,116.00 L155.46,115.67 L155.33,115.34 L155.21,115.01 L155.08,114.68 L154.96,114.34 L154.85,114.00 L154.74,113.66 L154.63,113.32 L154.52,112.97 L154.42,112.63 L154.32,112.28 L154.23,111.93 L154.14,111.57 L154.05,111.22 L153.97,110.86 L153.89,110.50 L153.81,110.14 L153.74,109.78 L153.67,109.41 L153.60,109.04 L153.54,108.67 L153.48,108.30 L153.43,107.93 L153.67,107.85 L153.90,107.76 L154.14,107.68 L154.37,107.60 L154.61,107.53 L154.85,107.45 L155.08,107.38 L155.32,107.31 L155.55,107.24 L155.79,107.17 L156.02,107.11 L156.26,107.04 L156.49,106.98 L156.73,106.93 L156.96,106.87 L157.20,106.81 L157.43,106.76 L157.67,106.71 L157.90,106.66 L158.14,106.61 L158.37,106.57 L158.60,106.52 L158.84,106.48 L159.07,106.44 L159.30,106.41 L159.53,106.37 L159.77,106.34 L160.00,106.31 L160.23,106.28 L160.46,106.25 L160.69,106.22 L160.92,106.20 L161.15,106.18 L161.38,106.16 L161.61,106.14 L161.84,106.12 L162.06,106.11 L162.29,106.09 L162.52,106.08 L162.74,106.07 L163.09,106.28 L163.43,106.49 L163.77,106.70 L164.11,106.92 L164.44,107.14 L164.77,107.36 L165.10,107.58 L165.42,107.81 L165.74,108.04 L166.06,108.28 L166.37,108.52 L166.68,108.76 L166.98,109.00 L167.28,109.25 L167.58,109.50 L167.87,109.75 L168.16,110.01 L168.45,110.27 L168.73,110.53 L169.01,110.79 L169.28,111.06 L169.55,111.33 L169.82,111.60 L170.08,111.87 L170.34,112.15 L170.60,112.43 L170.85,112.71 L171.09,113.00 L171.34,113.28 L171.57,113.57 L171.81,113.86 L172.04,114.16 L172.27,114.45 L172.49,114.75 L172.71,115.05 L172.92,115.35 L173.13,115.66 L173.34,115.96 L173.54,116.27 L173.73,116.58 L173.73,116.14 L173.73,115.70 L173.74,115.27 L173.76,114.83 L173.78,114.39 L173.80,113.95 L173.83,113.51 L173.87,113.07 L173.91,112.63 L173.96,112.18 L174.01,111.74 L174.07,111.30 L174.14,110.86 L174.21,110.42 L174.28,109.98 L174.36,109.53 L174.45,109.09 L174.54,108.65 L174.64,108.21 L174.74,107.77 L174.85,107.33 L174.97,106.89 L175.09,106.45 L175.22,106.01 L175.35,105.57 L175.49,105.13 L175.63,104.69 L175.78,104.26 L175.93,103.82 L176.09,103.39 L176.26,102.95 L176.43,102.52 L176.61,102.09 L176.79,101.65 L176.98,101.22 L177.17,100.79 L177.37,100.37 L177.57,99.94 L177.78,99.51 L178.00,99.09" fill="none" stroke="#3a78ee" stroke-width="1.1" stroke-opacity="0.68" stroke-linejoin="round"/>
<path d="M178.00,110.23 L178.15,110.16 L178.29,110.10 L178.44,110.03 L178.59,109.97 L178.74,109.91 L178.89,109.84 L179.04,109.78 L179.19,109.72 L179.35,109.67 L179.50,109.61 L179.66,109.55 L179.81,109.50 L179.97,109.44 L180.12,109.39 L180.28,109.34 L180.44,109.29 L180.60,109.24 L180.76,109.19 L180.92,109.14 L181.08,109.09 L181.24,109.05 L181.41,109.00 L181.57,108.96 L181.74,108.92 L181.90,108.88 L182.07,108.84 L182.23,108.80 L182.40,108.76 L182.57,108.72 L182.74,108.69 L182.91,108.66 L183.08,108.62 L183.25,108.59 L183.42,108.56 L183.59,108.53 L183.76,108.50 L183.93,108.48 L184.11,108.45 L184.28,108.43 L184.46,108.40 L184.77,107.89 L185.09,107.38 L185.41,106.87 L185.74,106.36 L186.08,105.86 L186.43,105.36 L186.78,104.86 L187.14,104.37 L187.51,103.88 L187.88,103.39 L188.26,102.91 L188.65,102.43 L189.04,101.96 L189.44,101.49 L189.85,101.02 L190.26,100.56 L190.68,100.10 L191.11,99.65 L191.54,99.20 L191.98,98.75 L192.42,98.31 L192.88,97.87 L193.33,97.44 L193.80,97.01 L194.27,96.59 L194.75,96.17 L195.23,95.76 L195.72,95.35 L196.22,94.95 L196.72,94.55 L197.22,94.15 L197.74,93.76 L198.26,93.38 L198.78,93.00 L199.31,92.63 L199.85,92.26 L200.39,91.89 L200.94,91.54 L201.50,91.18 L202.05,90.84 L202.22,91.18 L202.38,91.52 L202.54,91.86 L202.69,92.20 L202.85,92.54 L202.99,92.89 L203.14,93.23 L203.28,93.57 L203.42,93.91 L203.55,94.26 L203.68,94.60 L203.81,94.94 L203.94,95.29 L204.06,95.63 L204.17,95.97 L204.29,96.32 L204.40,96.66 L204.51,97.00 L204.61,97.35 L204.71,97.69 L204.81,98.03 L204.90,98.37 L204.99,98.72 L205.08,99.06 L205.16,99.40 L205.25,99.74 L205.32,100.08 L205.40,100.42 L205.47,100.76 L205.54,101.10 L205.60,101.44 L205.66,101.78 L205.72,102.12 L205.77,102.46 L205.82,102.79 L205.87,103.13 L205.92,103.46 L205.96,103.80 L206.00,104.13 L206.03,104.47 L205.78,105.08 L205.52,105.69 L205.25,106.30 L204.98,106.90 L204.70,107.49 L204.41,108.08 L204.12,108.67 L203.82,109.25 L203.51,109.83 L203.20,110.40 L202.88,110.96 L202.56,111.53 L202.23,112.08 L201.89,112.63 L201.54,113.18 L201.19,113.72 L200.84,114.25 L200.48,114.78 L200.11,115.30 L199.73,115.82 L199.35,116.33 L198.97,116.84 L198.58,117.34 L198.18,117.84 L197.78,118.33 L197.37,118.81 L196.96,119.29 L196.54,119.76 L196.12,120.22 L195.69,120.68 L195.25,121.14 L194.81,121.58 L194.37,122.02 L193.92,122.46 L193.46,122.88 L193.00,123.31 L192.54,123.72 L192.07,124.13 L191.59,124.53 L191.12,124.93 L191.45,124.85 L191.78,124.78 L192.11,124.72 L192.45,124.66 L192.78,124.60 L193.12,124.55 L193.46,124.50 L193.80,124.45 L194.14,124.41 L194.48,124.37 L194.82,124.34 L195.17,124.31 L195.51,124.29 L195.86,124.27 L196.21,124.25 L196.56,124.24 L196.91,124.23 L197.26,124.23 L197.61,124.23 L197.96,124.23 L198.31,124.24 L198.67,124.25 L199.02,124.27 L199.38,124.29 L199.73,124.32 L200.09,124.35 L200.44,124.39 L200.80,124.43 L201.16,124.47 L201.52,124.52 L201.87,124.57 L202.23,124.63 L202.59,124.69 L202.95,124.75 L203.31,124.82 L203.67,124.90 L204.03,124.97 L204.39,125.06 L204.75,125.14 L205.11,125.24 L205.10,125.43 L205.09,125.62 L205.08,125.81 L205.07,126.00 L205.06,126.19 L205.05,126.38 L205.03,126.57 L205.01,126.76 L205.00,126.95 L204.98,127.13 L204.96,127.32 L204.94,127.51 L204.91,127.69 L204.89,127.88 L204.86,128.06 L204.84,128.25 L204.81,128.43 L204.78,128.62 L204.75,128.80 L204.72,128.98 L204.69,129.16 L204.65,129.35 L204.62,129.53 L204.58,129.71 L204.54,129.89 L204.50,130.06 L204.46,130.24 L204.42,130.42 L204.38,130.60 L204.34,130.77 L204.29,130.95 L204.25,131.12 L204.20,131.30 L204.15,131.47 L204.10,131.65 L204.05,131.82 L204.00,131.99 L203.95,132.16 L203.89,132.33 L203.84,132.50 L203.30,132.67 L202.77,132.82 L202.23,132.98 L201.69,133.12 L201.15,133.26 L200.61,133.39 L200.07,133.51 L199.53,133.63 L198.99,133.74 L198.45,133.84 L197.90,133.94 L197.36,134.02 L196.82,134.11 L196.28,134.18 L195.73,134.25 L195.19,134.31 L194.65,134.36 L194.10,134.41 L193.56,134.44 L193.02,134.48 L192.47,134.50 L191.93,134.52 L191.39,134.53 L190.85,134.53 L190.31,134.53 L189.77,134.52 L189.23,134.50 L188.69,134.48 L188.15,134.45 L187.61,134.41 L187.08,134.37 L186.54,134.32 L186.01,134.26 L185.47,134.19 L184.94,134.12 L184.41,134.04 L183.88,133.95 L183.35,133.86 L182.83,133.76 L182.30,133.65 L182.67,133.78 L183.04,133.92 L183.40,134.06 L183.77,134.21 L184.13,134.36 L184.49,134.51 L184.85,134.67 L185.20,134.84 L185.56,135.01 L185.91,135.18 L186.26,135.36 L186.61,135.55 L186.95,135.74 L187.30,135.93 L187.64,136.13 L187.98,136.33 L188.32,136.54 L188.65,136.75 L188.99,136.97 L189.32,137.19 L189.65,137.41 L189.97,137.64 L190.29,137.88 L190.62,138.12 L190.93,138.36 L191.25,138.61 L191.56,138.86 L191.87,139.12 L192.18,139.38 L192.48,139.64 L192.78,139.91 L193.08,140.18 L193.38,140.46 L193.67,140.74 L193.96,141.03 L194.25,141.32 L194.53,141.62 L194.81,141.91 L195.09,142.22 L195.36,142.52 L197.79,144.10 L200.20,145.71 L202.60,147.35 L204.97,149.03 L207.32,150.73 L209.65,152.47 L211.95,154.23 L214.24,156.03 L216.50,157.86 L218.74,159.72 L220.96,161.61 L223.15,163.53 L225.33,165.48 L227.47,167.46 L229.60,169.47 L231.70,171.51 L233.77,173.58 L235.82,175.68 L237.85,177.80 L239.85,179.96 L241.82,182.14 L243.77,184.35 L245.69,186.58 L247.58,188.85 L249.45,191.14 L251.29,193.46 L253.11,195.80 L254.89,198.17 L256.65,200.57 L258.38,202.99 L260.08,205.44 L261.75,207.91 L263.40,210.41 L265.01,212.93 L266.60,215.48 L268.15,218.05 L269.68,220.64 L271.17,223.26 L272.64,225.91 L274.07,228.57 L271.49,227.22 L268.93,225.85 L266.40,224.44 L263.89,223.01 L261.40,221.54 L258.93,220.05 L256.49,218.53 L254.07,216.98 L251.67,215.40 L249.30,213.80 L246.95,212.17 L244.63,210.51 L242.33,208.82 L240.05,207.11 L237.80,205.37 L235.58,203.61 L233.38,201.82 L231.21,200.00 L229.07,198.16 L226.95,196.29 L224.86,194.40 L222.79,192.48 L220.75,190.54 L218.74,188.58 L216.76,186.59 L214.80,184.57 L212.88,182.54 L210.98,180.48 L209.11,178.40 L207.26,176.30 L205.45,174.17 L203.67,172.03 L201.91,169.86 L200.19,167.67 L198.49,165.46 L196.83,163.23 L195.19,160.98 L193.59,158.70 L192.02,156.41 L190.47,154.10 L190.13,153.84 L189.80,153.57 L189.47,153.29 L189.14,153.01 L188.81,152.73 L188.49,152.45 L188.18,152.16 L187.87,151.87 L187.56,151.57 L187.26,151.28 L186.96,150.98 L186.67,150.67 L186.38,150.37 L186.09,150.06 L185.81,149.74 L185.54,149.43 L185.27,149.11 L185.00,148.79 L184.74,148.47 L184.48,148.14 L184.22,147.81 L183.98,147.48 L183.73,147.14 L183.49,146.81 L183.26,146.47 L183.03,146.12 L182.80,145.78 L182.58,145.43 L182.36,145.08 L182.15,144.73 L181.95,144.38 L181.74,144.02 L181.55,143.67 L181.36,143.31 L181.17,142.94 L180.99,142.58 L180.81,142.21 L180.64,141.85 L180.47,141.48 L180.31,141.11 L180.25,141.11 L180.19,141.11 L180.13,141.12 L180.07,141.12 L180.01,141.12 L179.95,141.12 L179.89,141.13 L179.83,141.13 L179.78,141.13 L179.72,141.13 L179.66,141.13 L179.60,141.13 L179.54,141.13 L179.48,141.13 L179.42,141.13 L179.37,141.12 L179.31,141.12 L179.25,141.12 L179.19,141.12 L179.13,141.11 L179.08,141.11 L179.02,141.10 L178.96,141.10 L178.90,141.09 L178.85,141.09 L178.79,141.08 L178.73,141.08 L178.67,141.07 L178.62,141.06 L178.56,141.06 L178.50,141.05 L178.45,141.04 L178.39,141.03 L178.33,141.02 L178.28,141.01 L178.22,141.01 L178.17,141.00 L178.11,140.99 L178.06,140.97 L178.00,140.96 L177.93,142.65 L177.85,144.33 L177.73,146.01 L177.60,147.68 L177.45,149.36 L177.27,151.04 L177.07,152.71 L176.85,154.39 L176.61,156.06 L176.35,157.73 L176.06,159.39 L175.75,161.05 L175.42,162.71 L175.07,164.37 L174.70,166.03 L174.30,167.68 L173.89,169.32 L173.45,170.96 L172.99,172.60 L172.51,174.24 L172.00,175.86 L171.48,177.49 L170.93,179.11 L170.36,180.72 L169.77,182.33 L169.16,183.93 L168.53,185.53 L167.88,187.12 L167.20,188.70 L166.51,190.28 L165.79,191.85 L165.05,193.41 L164.29,194.97 L163.51,196.52 L162.71,198.06 L161.89,199.59 L161.05,201.12 L160.19,202.64 L159.30,204.15 L158.40,205.65 L157.90,205.61 L157.39,205.58 L156.88,205.54 L156.38,205.49 L155.87,205.45 L155.37,205.40 L154.86,205.34 L154.35,205.28 L153.84,205.22 L153.34,205.16 L152.83,205.09 L152.32,205.02 L151.81,204.94 L151.30,204.86 L150.80,204.78 L150.29,204.69 L149.78,204.61 L149.27,204.51 L148.76,204.42 L148.25,204.31 L147.74,204.21 L147.24,204.10 L146.73,203.99 L146.22,203.88 L145.71,203.76 L145.21,203.64 L144.70,203.51 L144.19,203.38 L143.68,203.25 L143.18,203.11 L142.67,202.97 L142.16,202.83 L141.66,202.68 L141.15,202.53 L140.65,202.38 L140.14,202.22 L139.64,202.06 L139.14,201.89 L138.63,201.73 L138.13,201.55 L138.59,199.73 L139.08,197.93 L139.58,196.12 L140.11,194.33 L140.66,192.55 L141.23,190.78 L141.82,189.02 L142.43,187.27 L143.07,185.53 L143.72,183.80 L144.40,182.08 L145.10,180.37 L145.82,178.67 L146.56,176.99 L147.32,175.32 L148.10,173.66 L148.90,172.01 L149.72,170.37 L150.56,168.75 L151.42,167.13 L152.31,165.53 L153.21,163.95 L154.13,162.38 L155.07,160.82 L156.03,159.27 L157.01,157.74 L158.01,156.22 L159.02,154.72 L160.06,153.23 L161.11,151.76 L162.18,150.30 L163.28,148.85 L164.38,147.42 L165.51,146.01 L166.66,144.61 L167.82,143.23 L169.00,141.86 L170.20,140.51 L171.41,139.17 L172.65,137.85 L172.17,138.25 L171.70,138.64 L171.22,139.02 L170.73,139.40 L170.24,139.77 L169.74,140.13 L169.24,140.49 L168.73,140.85 L168.22,141.19 L167.70,141.53 L167.18,141.86 L166.65,142.19 L166.12,142.51 L165.58,142.83 L165.04,143.13 L164.50,143.43 L163.95,143.73 L163.39,144.01 L162.84,144.29 L162.27,144.57 L161.71,144.83 L161.14,145.09 L160.56,145.35 L159.98,145.59 L159.40,145.83 L158.81,146.06 L158.22,146.29 L157.63,146.50 L157.03,146.71 L156.43,146.92 L155.82,147.11 L155.21,147.30 L154.60,147.48 L153.98,147.65 L153.36,147.82 L152.74,147.98 L152.12,148.13 L151.49,148.27 L150.86,148.41 L150.22,148.54 L149.52,148.70 L148.81,148.85 L148.10,148.99 L147.39,149.12 L146.67,149.25 L145.95,149.36 L145.23,149.47 L144.50,149.57 L143.77,149.66 L143.04,149.74 L142.31,149.81 L141.57,149.87 L140.84,149.93 L140.09,149.97 L139.35,150.01 L138.61,150.04 L137.86,150.06 L137.11,150.07 L136.36,150.07 L135.61,150.06 L134.86,150.04 L134.10,150.01 L133.35,149.98 L132.59,149.93 L131.83,149.88 L131.07,149.81 L130.31,149.74 L129.54,149.66 L128.78,149.57 L128.02,149.47 L127.25,149.36 L126.48,149.24 L125.72,149.11 L124.95,148.97 L124.18,148.83 L123.42,148.67 L122.65,148.50 L121.88,148.33 L121.11,148.14 L120.34,147.95 L121.19,147.32 L122.05,146.71 L122.91,146.11 L123.77,145.52 L124.64,144.94 L125.52,144.38 L126.40,143.82 L127.28,143.28 L128.17,142.75 L129.07,142.23 L129.97,141.73 L130.87,141.23 L131.78,140.75 L132.69,140.29 L133.61,139.83 L134.53,139.38 L135.46,138.95 L136.38,138.53 L137.32,138.13 L138.25,137.73 L139.19,137.35 L140.13,136.98 L141.08,136.63 L142.03,136.28 L142.98,135.95 L143.93,135.63 L144.89,135.32 L145.85,135.03 L146.81,134.75 L147.77,134.48 L148.74,134.23 L149.71,133.98 L150.68,133.75 L151.65,133.54 L152.62,133.33 L153.60,133.14 L154.57,132.96 L155.55,132.79 L156.53,132.64 L157.51,132.50 L157.67,132.37 L157.82,132.24 L157.98,132.11 L158.14,131.98 L158.30,131.86 L158.46,131.73 L158.62,131.61 L158.78,131.49 L158.95,131.38 L159.11,131.26 L159.27,131.15 L159.44,131.04 L159.60,130.93 L159.77,130.82 L159.94,130.72 L160.10,130.62 L160.27,130.52 L160.44,130.42 L160.61,130.33 L160.78,130.23 L160.95,130.14 L161.12,130.05 L161.29,129.96 L161.46,129.88 L161.63,129.80 L161.80,129.72 L161.97,129.64 L162.14,129.56 L162.32,129.49 L162.49,129.41 L162.66,129.34 L162.84,129.28 L163.01,129.21 L163.18,129.15 L163.36,129.09 L163.53,129.03 L163.71,128.97 L163.88,128.91 L164.06,128.86 L164.23,128.81 L164.27,128.72 L164.30,128.64 L164.34,128.55 L164.38,128.46 L164.41,128.38 L164.45,128.29 L164.49,128.21 L164.53,128.12 L164.57,128.04 L164.61,127.95 L164.65,127.87 L164.69,127.79 L164.73,127.70 L164.77,127.62 L164.82,127.54 L164.86,127.46 L164.90,127.37 L164.95,127.29 L164.99,127.21 L165.04,127.13 L165.08,127.05 L165.13,126.97 L165.17,126.89 L165.22,126.81 L165.27,126.73 L165.32,126.65 L165.37,126.58 L165.42,126.50 L165.47,126.42 L165.52,126.34 L165.57,126.27 L165.62,126.19 L165.67,126.11 L165.72,126.04 L165.77,125.96 L165.83,125.89 L165.88,125.82 L165.93,125.74 L165.99,125.67 L166.04,125.60 L165.93,125.43 L165.83,125.26 L165.72,125.09 L165.62,124.91 L165.52,124.74 L165.42,124.56 L165.32,124.38 L165.22,124.20 L165.13,124.02 L165.04,123.84 L164.95,123.65 L164.86,123.47 L164.77,123.28 L164.69,123.09 L164.60,122.90 L164.52,122.71 L164.44,122.51 L164.37,122.32 L164.29,122.12 L164.22,121.92 L164.15,121.72 L164.08,121.52 L164.01,121.32 L163.94,121.12 L163.88,120.91 L163.82,120.71 L163.76,120.50 L163.71,120.29 L163.65,120.08 L163.60,119.87 L163.55,119.66 L163.50,119.44 L163.45,119.23 L163.41,119.01 L163.37,118.80 L163.33,118.58 L163.29,118.36 L163.26,118.14 L163.23,117.92 L163.20,117.70 L163.18,117.48 L163.16,117.26 L163.14,117.05 L163.13,116.83 L163.12,116.61 L163.11,116.39 L163.10,116.17 L163.10,115.95 L163.09,115.73 L163.09,115.50 L163.10,115.28 L163.10,115.06 L163.11,114.83 L163.12,114.61 L163.13,114.38 L163.14,114.15 L163.16,113.92 L163.18,113.70 L163.20,113.47 L163.22,113.24 L163.25,113.01 L163.27,112.78 L163.30,112.55 L163.34,112.32 L163.37,112.09 L163.41,111.86 L163.45,111.62 L163.49,111.39 L163.54,111.16 L163.58,110.93 L163.63,110.69 L163.69,110.46 L163.74,110.22 L163.80,109.99 L163.86,109.76 L163.92,109.52 L163.98,109.29 L164.05,109.05 L164.12,108.82 L164.19,108.58 L164.56,108.86 L164.92,109.14 L165.28,109.43 L165.63,109.72 L165.98,110.01 L166.32,110.31 L166.66,110.61 L167.00,110.91 L167.33,111.22 L167.66,111.53 L167.98,111.84 L168.30,112.16 L168.61,112.48 L168.92,112.80 L169.22,113.13 L169.52,113.46 L169.82,113.79 L170.10,114.12 L170.39,114.46 L170.67,114.80 L170.95,115.15 L171.22,115.50 L171.48,115.85 L171.74,116.20 L172.00,116.55 L172.25,116.91 L172.50,117.27 L172.74,117.64 L172.97,118.00 L173.20,118.37 L173.43,118.74 L173.65,119.11 L173.87,119.49 L174.08,119.87 L174.28,120.24 L174.48,120.63 L174.68,121.01 L174.87,121.40 L175.05,121.78 L175.23,122.17 L175.23,121.88 L175.23,121.58 L175.23,121.28 L175.23,120.98 L175.24,120.68 L175.26,120.38 L175.27,120.08 L175.30,119.78 L175.32,119.48 L175.35,119.17 L175.38,118.87 L175.42,118.57 L175.46,118.27 L175.50,117.97 L175.55,117.67 L175.60,117.37 L175.66,117.06 L175.72,116.76 L175.78,116.46 L175.85,116.16 L175.92,115.86 L175.99,115.56 L176.07,115.26 L176.16,114.96 L176.24,114.66 L176.33,114.36 L176.43,114.06 L176.53,113.76 L176.63,113.46 L176.73,113.16 L176.84,112.87 L176.96,112.57 L177.07,112.28 L177.19,111.98 L177.32,111.69 L177.45,111.39 L177.58,111.10 L177.72,110.81 L177.86,110.52 L178.00,110.23" fill="none" stroke="#ffa10a" stroke-width="1.1" stroke-opacity="0.68" stroke-linejoin="round"/>
<circle cx="178.00" cy="108.00" r="2.5" fill="#990000"/>
<circle cx="186.19" cy="101.95" r="2.5" fill="#990000"/>
<circle cx="204.95" cy="85.82" r="2.5" fill="#990000"/>
<circle cx="207.92" cy="102.58" r="2.5" fill="#990000"/>
<circle cx="193.82" cy="123.37" r="2.5" fill="#990000"/>
<circle cx="211.78" cy="123.45" r="2.5" fill="#990000"/>
<circle cx="205.62" cy="132.50" r="2.5" fill="#990000"/>
<circle cx="187.68" cy="135.09" r="2.5" fill="#990000"/>
<circle cx="196.52" cy="143.19" r="2.5" fill="#990000"/>
<circle cx="286.35" cy="240.85" r="2.5" fill="#990000"/>
<circle cx="193.15" cy="158.73" r="2.5" fill="#990000"/>
<circle cx="180.77" cy="142.83" r="2.5" fill="#990000"/>
<circle cx="178.00" cy="141.41" r="2.5" fill="#990000"/>
<circle cx="155.63" cy="215.97" r="2.5" fill="#990000"/>
<circle cx="134.57" cy="207.73" r="2.5" fill="#990000"/>
<circle cx="171.07" cy="139.43" r="2.5" fill="#990000"/>
<circle cx="145.79" cy="151.10" r="2.5" fill="#990000"/>
<circle cx="109.59" cy="150.83" r="2.5" fill="#990000"/>
<circle cx="152.16" cy="132.50" r="2.5" fill="#990000"/>
<circle cx="163.37" cy="128.58" r="2.5" fill="#990000"/>
<circle cx="165.27" cy="125.15" r="2.5" fill="#990000"/>
<circle cx="162.25" cy="116.75" r="2.5" fill="#990000"/>
<circle cx="162.74" cy="106.07" r="2.5" fill="#990000"/>
<circle cx="174.77" cy="120.45" r="2.5" fill="#990000"/>
<path d="M178.00,96.59 L180.50,99.09 L178.00,101.59 L175.50,99.09Z" fill="#3a78ee"/>
<path d="M188.03,92.57 L190.53,95.07 L188.03,97.57 L185.53,95.07Z" fill="#3a78ee"/>
<path d="M216.98,62.49 L219.48,64.99 L216.98,67.49 L214.48,64.99Z" fill="#3a78ee"/>
<path d="M219.89,88.11 L222.39,90.61 L219.89,93.11 L217.39,90.61Z" fill="#3a78ee"/>
<path d="M198.45,118.20 L200.95,120.70 L198.45,123.20 L195.95,120.70Z" fill="#3a78ee"/>
<path d="M222.32,118.12 L224.82,120.62 L222.32,123.12 L219.82,120.62Z" fill="#3a78ee"/>
<path d="M222.10,130.00 L224.60,132.50 L222.10,135.00 L219.60,132.50Z" fill="#3a78ee"/>
<path d="M184.88,131.84 L187.38,134.34 L184.88,136.84 L182.38,134.34Z" fill="#3a78ee"/>
<path d="M203.46,144.70 L205.96,147.20 L203.46,149.70 L200.96,147.20Z" fill="#3a78ee"/>
<path d="M311.55,263.55 L314.05,266.05 L311.55,268.55 L309.05,266.05Z" fill="#3a78ee"/>
<path d="M196.26,161.63 L198.76,164.13 L196.26,166.63 L193.76,164.13Z" fill="#3a78ee"/>
<path d="M182.50,146.78 L185.00,149.28 L182.50,151.78 L180.00,149.28Z" fill="#3a78ee"/>
<path d="M178.00,142.47 L180.50,144.97 L178.00,147.47 L175.50,144.97Z" fill="#3a78ee"/>
<path d="M148.49,240.15 L150.99,242.65 L148.49,245.15 L145.99,242.65Z" fill="#3a78ee"/>
<path d="M119.87,230.69 L122.37,233.19 L119.87,235.69 L117.37,233.19Z" fill="#3a78ee"/>
<path d="M169.50,138.50 L172.00,141.00 L169.50,143.50 L167.00,141.00Z" fill="#3a78ee"/>
<path d="M135.18,154.72 L137.68,157.22 L135.18,159.72 L132.68,157.22Z" fill="#3a78ee"/>
<path d="M96.25,151.91 L98.75,154.41 L96.25,156.91 L93.75,154.41Z" fill="#3a78ee"/>
<path d="M146.37,130.00 L148.87,132.50 L146.37,135.00 L143.87,132.50Z" fill="#3a78ee"/>
<path d="M158.21,124.70 L160.71,127.20 L158.21,129.70 L155.71,127.20Z" fill="#3a78ee"/>
<path d="M158.33,118.64 L160.83,121.14 L158.33,123.64 L155.83,121.14Z" fill="#3a78ee"/>
<path d="M153.43,105.43 L155.93,107.93 L153.43,110.43 L150.93,107.93Z" fill="#3a78ee"/>
<path d="M162.74,103.57 L165.24,106.07 L162.74,108.57 L160.24,106.07Z" fill="#3a78ee"/>
<path d="M173.73,114.08 L176.23,116.58 L173.73,119.08 L171.23,116.58Z" fill="#3a78ee"/>
<polygon points="178.00,107.63 178.64,109.34 180.47,109.42 179.04,110.56 179.53,112.33 178.00,111.32 176.47,112.33 176.96,110.56 175.53,109.42 177.36,109.34" fill="#ffa10a"/>
<polygon points="184.46,105.80 185.10,107.52 186.93,107.60 185.49,108.74 185.98,110.51 184.46,109.50 182.93,110.51 183.42,108.74 181.98,107.60 183.81,107.52" fill="#ffa10a"/>
<polygon points="202.05,88.24 202.70,89.95 204.53,90.03 203.09,91.17 203.58,92.94 202.05,91.93 200.53,92.94 201.02,91.17 199.58,90.03 201.41,89.95" fill="#ffa10a"/>
<polygon points="206.03,101.87 206.68,103.58 208.51,103.66 207.07,104.80 207.56,106.57 206.03,105.56 204.51,106.57 205.00,104.80 203.56,103.66 205.39,103.58" fill="#ffa10a"/>
<polygon points="191.12,122.33 191.76,124.04 193.59,124.12 192.15,125.26 192.64,127.03 191.12,126.02 189.59,127.03 190.08,125.26 188.64,124.12 190.47,124.04" fill="#ffa10a"/>
<polygon points="205.11,122.64 205.75,124.35 207.58,124.43 206.15,125.57 206.64,127.34 205.11,126.33 203.58,127.34 204.07,125.57 202.63,124.43 204.47,124.35" fill="#ffa10a"/>
<polygon points="203.84,129.90 204.48,131.62 206.31,131.70 204.87,132.84 205.36,134.60 203.84,133.59 202.31,134.60 202.80,132.84 201.36,131.70 203.19,131.62" fill="#ffa10a"/>
<polygon points="182.30,131.05 182.94,132.77 184.78,132.85 183.34,133.99 183.83,135.76 182.30,134.74 180.77,135.76 181.26,133.99 179.83,132.85 181.66,132.77" fill="#ffa10a"/>
<polygon points="195.36,139.92 196.00,141.64 197.83,141.72 196.40,142.86 196.89,144.63 195.36,143.61 193.83,144.63 194.32,142.86 192.89,141.72 194.72,141.64" fill="#ffa10a"/>
<polygon points="274.07,225.97 274.71,227.69 276.54,227.77 275.11,228.91 275.60,230.67 274.07,229.66 272.54,230.67 273.03,228.91 271.60,227.77 273.43,227.69" fill="#ffa10a"/>
<polygon points="190.47,151.50 191.11,153.22 192.95,153.30 191.51,154.44 192.00,156.21 190.47,155.20 188.94,156.21 189.43,154.44 188.00,153.30 189.83,153.22" fill="#ffa10a"/>
<polygon points="180.31,138.51 180.95,140.22 182.78,140.30 181.34,141.44 181.83,143.21 180.31,142.20 178.78,143.21 179.27,141.44 177.83,140.30 179.66,140.22" fill="#ffa10a"/>
<polygon points="178.00,138.36 178.64,140.08 180.47,140.16 179.04,141.30 179.53,143.07 178.00,142.06 176.47,143.07 176.96,141.30 175.53,140.16 177.36,140.08" fill="#ffa10a"/>
<polygon points="158.40,203.05 159.04,204.76 160.87,204.84 159.44,205.98 159.93,207.75 158.40,206.74 156.87,207.75 157.36,205.98 155.93,204.84 157.76,204.76" fill="#ffa10a"/>
<polygon points="138.13,198.95 138.77,200.67 140.60,200.75 139.17,201.89 139.66,203.66 138.13,202.65 136.60,203.66 137.09,201.89 135.66,200.75 137.49,200.67" fill="#ffa10a"/>
<polygon points="172.65,135.25 173.29,136.97 175.12,137.05 173.68,138.19 174.17,139.96 172.65,138.95 171.12,139.96 171.61,138.19 170.17,137.05 172.00,136.97" fill="#ffa10a"/>
<polygon points="150.22,145.94 150.87,147.65 152.70,147.73 151.26,148.87 151.75,150.64 150.22,149.63 148.70,150.64 149.19,148.87 147.75,147.73 149.58,147.65" fill="#ffa10a"/>
<polygon points="120.34,145.35 120.98,147.07 122.82,147.15 121.38,148.29 121.87,150.05 120.34,149.04 118.81,150.05 119.30,148.29 117.87,147.15 119.70,147.07" fill="#ffa10a"/>
<polygon points="157.51,129.90 158.15,131.62 159.98,131.70 158.55,132.84 159.04,134.60 157.51,133.59 155.98,134.60 156.47,132.84 155.04,131.70 156.87,131.62" fill="#ffa10a"/>
<polygon points="164.23,126.21 164.87,127.93 166.70,128.01 165.27,129.15 165.76,130.91 164.23,129.90 162.70,130.91 163.19,129.15 161.76,128.01 163.59,127.93" fill="#ffa10a"/>
<polygon points="166.04,123.00 166.68,124.71 168.51,124.79 167.08,125.93 167.57,127.70 166.04,126.69 164.51,127.70 165.00,125.93 163.57,124.79 165.40,124.71" fill="#ffa10a"/>
<polygon points="163.20,115.10 163.84,116.81 165.67,116.89 164.23,118.03 164.72,119.80 163.20,118.79 161.67,119.80 162.16,118.03 160.72,116.89 162.55,116.81" fill="#ffa10a"/>
<polygon points="164.19,105.98 164.83,107.70 166.66,107.78 165.23,108.92 165.72,110.69 164.19,109.67 162.66,110.69 163.15,108.92 161.72,107.78 163.55,107.70" fill="#ffa10a"/>
<polygon points="175.23,119.57 175.87,121.29 177.71,121.37 176.27,122.51 176.76,124.28 175.23,123.27 173.70,124.28 174.19,122.51 172.76,121.37 174.59,121.29" fill="#ffa10a"/>
<circle cx="489.3" cy="134.0" r="19.60" fill="none" stroke="#dedede" stroke-width="1"/>
<circle cx="489.3" cy="134.0" r="39.20" fill="none" stroke="#dedede" stroke-width="1"/>
<circle cx="489.3" cy="134.0" r="58.80" fill="none" stroke="#dedede" stroke-width="1"/>
<circle cx="489.3" cy="134.0" r="78.40" fill="none" stroke="#dedede" stroke-width="1"/>
<circle cx="489.3" cy="134.0" r="98.00" fill="none" stroke="#dedede" stroke-width="1"/>
<line x1="489.3" y1="134.0" x2="489.30" y2="36.00" stroke="#dedede" stroke-width="1"/>
<line x1="489.3" y1="134.0" x2="558.60" y2="64.70" stroke="#dedede" stroke-width="1"/>
<line x1="489.3" y1="134.0" x2="587.30" y2="134.00" stroke="#dedede" stroke-width="1"/>
<line x1="489.3" y1="134.0" x2="558.60" y2="203.30" stroke="#dedede" stroke-width="1"/>
<line x1="489.3" y1="134.0" x2="489.30" y2="232.00" stroke="#dedede" stroke-width="1"/>
<line x1="489.3" y1="134.0" x2="420.00" y2="203.30" stroke="#dedede" stroke-width="1"/>
<line x1="489.3" y1="134.0" x2="391.30" y2="134.00" stroke="#dedede" stroke-width="1"/>
<line x1="489.3" y1="134.0" x2="420.00" y2="64.70" stroke="#dedede" stroke-width="1"/>
<text x="488.50" y="132.70" text-anchor="end" font-size="7" fill="#141414">0.00</text>
<text x="488.50" y="113.10" text-anchor="end" font-size="7" fill="#141414">4.40</text>
<text x="488.50" y="93.50" text-anchor="end" font-size="7" fill="#141414">8.80</text>
<text x="488.50" y="73.90" text-anchor="end" font-size="7" fill="#141414">13.20</text>
<text x="488.50" y="54.30" text-anchor="end" font-size="7" fill="#141414">17.60</text>
<text x="488.50" y="34.70" text-anchor="end" font-size="7" fill="#141414">22.00</text>
<text x="489.30" y="27.95" text-anchor="middle" font-size="7.3" fill="#141414">14</text>
<text x="565.67" y="59.58" text-anchor="middle" font-size="7.3" fill="#141414">14</text>
<text x="597.30" y="135.95" text-anchor="middle" font-size="7.3" fill="#141414">18</text>
<text x="565.67" y="212.32" text-anchor="middle" font-size="7.3" fill="#141414">17</text>
<text x="489.30" y="243.95" text-anchor="middle" font-size="7.3" fill="#141414">15</text>
<text x="412.93" y="212.32" text-anchor="middle" font-size="7.3" fill="#141414">17</text>
<text x="381.30" y="135.95" text-anchor="middle" font-size="7.3" fill="#141414">40</text>
<text x="412.93" y="59.58" text-anchor="middle" font-size="7.3" fill="#141414">11</text>
<path d="M489.30,112.31 L489.73,112.11 L490.17,111.92 L490.61,111.73 L491.07,111.56 L491.53,111.40 L491.99,111.24 L492.47,111.10 L492.95,110.96 L493.44,110.84 L493.93,110.72 L494.43,110.62 L494.94,110.53 L495.45,110.45 L495.96,110.37 L496.48,110.32 L497.01,110.27 L497.54,110.23 L498.08,110.21 L498.62,110.19 L499.16,110.19 L499.71,110.20 L500.26,110.23 L500.81,110.26 L501.37,110.31 L501.93,110.37 L502.49,110.45 L503.05,110.54 L503.62,110.64 L504.18,110.75 L504.75,110.88 L505.32,111.02 L505.88,111.17 L506.45,111.34 L507.02,111.52 L507.59,111.72 L508.15,111.93 L508.72,112.15 L509.28,112.38 L509.84,112.63 L510.40,112.90 L510.56,113.56 L510.69,114.22 L510.81,114.89 L510.91,115.54 L510.99,116.20 L511.06,116.85 L511.11,117.49 L511.14,118.13 L511.15,118.77 L511.15,119.40 L511.13,120.02 L511.10,120.64 L511.05,121.25 L510.99,121.85 L510.91,122.45 L510.81,123.04 L510.70,123.62 L510.58,124.19 L510.44,124.75 L510.29,125.31 L510.12,125.85 L509.95,126.38 L509.75,126.91 L509.55,127.42 L509.33,127.92 L509.11,128.41 L508.87,128.89 L508.62,129.36 L508.36,129.82 L508.09,130.26 L507.81,130.70 L507.51,131.12 L507.21,131.52 L506.91,131.92 L506.59,132.30 L506.26,132.66 L505.93,133.02 L505.59,133.36 L505.24,133.69 L504.89,134.00 L505.19,134.31 L505.49,134.64 L505.78,134.97 L506.06,135.32 L506.34,135.68 L506.61,136.05 L506.87,136.43 L507.12,136.82 L507.36,137.23 L507.59,137.64 L507.82,138.06 L508.03,138.50 L508.24,138.94 L508.43,139.40 L508.62,139.86 L508.79,140.33 L508.95,140.81 L509.10,141.30 L509.24,141.80 L509.36,142.31 L509.48,142.83 L509.58,143.35 L509.67,143.88 L509.74,144.41 L509.80,144.96 L509.85,145.51 L509.88,146.06 L509.90,146.63 L509.91,147.19 L509.90,147.77 L509.88,148.34 L509.84,148.92 L509.79,149.51 L509.72,150.10 L509.64,150.69 L509.54,151.29 L509.42,151.88 L509.29,152.48 L509.15,153.08 L508.99,153.69 L508.52,153.98 L508.04,154.27 L507.56,154.55 L507.08,154.81 L506.59,155.07 L506.10,155.31 L505.61,155.55 L505.11,155.77 L504.62,155.98 L504.12,156.18 L503.62,156.36 L503.11,156.54 L502.61,156.71 L502.10,156.86 L501.60,157.01 L501.09,157.14 L500.58,157.26 L500.07,157.37 L499.57,157.47 L499.06,157.56 L498.55,157.64 L498.05,157.71 L497.54,157.76 L497.04,157.81 L496.53,157.84 L496.03,157.87 L495.53,157.88 L495.04,157.89 L494.54,157.88 L494.05,157.87 L493.56,157.84 L493.07,157.80 L492.59,157.76 L492.11,157.70 L491.63,157.63 L491.15,157.56 L490.68,157.47 L490.22,157.38 L489.76,157.28 L489.30,157.16 L488.82,158.42 L488.29,159.66 L487.71,160.89 L487.09,162.11 L486.41,163.31 L485.69,164.50 L484.92,165.67 L484.10,166.82 L483.24,167.95 L482.33,169.06 L481.37,170.15 L480.37,171.21 L479.32,172.24 L478.23,173.25 L477.10,174.23 L475.92,175.18 L474.70,176.10 L473.44,176.98 L472.14,177.84 L470.80,178.65 L469.43,179.43 L468.01,180.18 L466.56,180.88 L465.07,181.55 L463.55,182.17 L461.99,182.76 L460.41,183.30 L458.79,183.79 L457.14,184.24 L455.46,184.65 L453.75,185.01 L452.02,185.32 L450.26,185.58 L448.47,185.79 L446.66,185.95 L444.83,186.06 L442.99,186.12 L441.12,186.12 L439.23,186.08 L437.33,185.97 L437.14,184.15 L437.00,182.35 L436.91,180.56 L436.87,178.78 L436.87,177.02 L436.93,175.28 L437.04,173.56 L437.19,171.86 L437.39,170.18 L437.63,168.52 L437.92,166.89 L438.25,165.28 L438.63,163.70 L439.05,162.14 L439.51,160.62 L440.00,159.12 L440.54,157.65 L441.12,156.21 L441.73,154.81 L442.38,153.43 L443.07,152.09 L443.79,150.79 L444.54,149.52 L445.32,148.29 L446.14,147.09 L446.98,145.93 L447.86,144.81 L448.76,143.73 L449.68,142.69 L450.63,141.69 L451.61,140.73 L452.61,139.81 L453.62,138.93 L454.66,138.10 L455.72,137.31 L456.79,136.56 L457.88,135.85 L458.99,135.19 L460.11,134.57 L461.24,134.00 L460.79,133.44 L460.35,132.86 L459.92,132.27 L459.50,131.65 L459.10,131.03 L458.71,130.38 L458.34,129.72 L457.97,129.04 L457.63,128.34 L457.30,127.63 L456.98,126.91 L456.68,126.17 L456.40,125.42 L456.14,124.65 L455.89,123.87 L455.66,123.07 L455.45,122.26 L455.26,121.44 L455.09,120.61 L454.94,119.77 L454.80,118.91 L454.69,118.05 L454.60,117.17 L454.53,116.28 L454.48,115.39 L454.46,114.49 L454.45,113.58 L454.47,112.66 L454.51,111.73 L454.58,110.80 L454.66,109.86 L454.78,108.92 L454.91,107.97 L455.07,107.02 L455.25,106.06 L455.46,105.10 L455.69,104.14 L455.95,103.17 L456.23,102.21 L456.54,101.24 L457.62,101.05 L458.69,100.89 L459.75,100.75 L460.81,100.65 L461.86,100.57 L462.91,100.52 L463.94,100.50 L464.97,100.51 L465.98,100.54 L466.98,100.60 L467.98,100.69 L468.96,100.80 L469.92,100.94 L470.88,101.10 L471.82,101.29 L472.74,101.50 L473.65,101.74 L474.55,102.00 L475.42,102.28 L476.28,102.58 L477.13,102.90 L477.95,103.25 L478.76,103.61 L479.55,104.00 L480.32,104.40 L481.07,104.82 L481.80,105.26 L482.51,105.72 L483.20,106.19 L483.87,106.68 L484.51,107.19 L485.14,107.71 L485.74,108.24 L486.32,108.79 L486.87,109.35 L487.40,109.92 L487.91,110.50 L488.40,111.09 L488.86,111.69 L489.30,112.31" fill="none" stroke="#990000" stroke-width="1.1" stroke-opacity="0.68" stroke-linejoin="round"/>
<path d="M489.30,102.37 L489.93,102.15 L490.56,101.93 L491.20,101.73 L491.85,101.54 L492.51,101.36 L493.18,101.20 L493.86,101.05 L494.54,100.91 L495.23,100.79 L495.93,100.69 L496.63,100.59 L497.34,100.52 L498.05,100.46 L498.77,100.41 L499.50,100.38 L500.23,100.36 L500.96,100.36 L501.70,100.38 L502.45,100.41 L503.19,100.46 L503.94,100.52 L504.70,100.61 L505.45,100.70 L506.21,100.82 L506.97,100.95 L507.72,101.10 L508.49,101.27 L509.25,101.45 L510.01,101.65 L510.77,101.87 L511.53,102.11 L512.29,102.36 L513.05,102.63 L513.80,102.92 L514.56,103.22 L515.31,103.55 L516.06,103.89 L516.80,104.25 L517.54,104.63 L518.28,105.02 L518.47,105.95 L518.63,106.88 L518.77,107.81 L518.89,108.73 L518.98,109.64 L519.04,110.55 L519.09,111.45 L519.10,112.35 L519.10,113.23 L519.07,114.11 L519.02,114.98 L518.94,115.83 L518.85,116.68 L518.73,117.52 L518.59,118.34 L518.43,119.16 L518.25,119.96 L518.05,120.74 L517.83,121.52 L517.59,122.28 L517.34,123.03 L517.06,123.76 L516.77,124.48 L516.46,125.18 L516.13,125.86 L515.78,126.53 L515.43,127.18 L515.05,127.82 L514.66,128.44 L514.26,129.04 L513.84,129.62 L513.41,130.18 L512.97,130.73 L512.51,131.25 L512.05,131.76 L511.57,132.25 L511.08,132.72 L510.59,133.16 L510.08,133.59 L509.57,134.00 L509.94,134.41 L510.30,134.83 L510.65,135.26 L510.99,135.71 L511.33,136.17 L511.65,136.65 L511.96,137.13 L512.27,137.64 L512.56,138.15 L512.84,138.68 L513.11,139.22 L513.36,139.78 L513.60,140.34 L513.83,140.92 L514.05,141.51 L514.25,142.11 L514.44,142.72 L514.62,143.34 L514.77,143.97 L514.92,144.61 L515.05,145.26 L515.16,145.92 L515.26,146.59 L515.34,147.27 L515.40,147.95 L515.45,148.64 L515.48,149.34 L515.49,150.05 L515.48,150.76 L515.46,151.48 L515.42,152.20 L515.36,152.93 L515.28,153.66 L515.18,154.40 L515.06,155.14 L514.92,155.89 L514.77,156.63 L514.59,157.38 L514.40,158.13 L514.18,158.88 L513.61,159.29 L513.04,159.68 L512.45,160.06 L511.87,160.42 L511.27,160.77 L510.67,161.11 L510.07,161.44 L509.46,161.75 L508.85,162.05 L508.23,162.33 L507.61,162.61 L506.99,162.87 L506.36,163.11 L505.73,163.34 L505.10,163.56 L504.47,163.77 L503.83,163.96 L503.19,164.14 L502.55,164.30 L501.91,164.45 L501.27,164.59 L500.63,164.72 L499.99,164.83 L499.35,164.93 L498.71,165.01 L498.07,165.08 L497.43,165.14 L496.79,165.19 L496.15,165.22 L495.51,165.24 L494.88,165.24 L494.25,165.24 L493.62,165.22 L492.99,165.19 L492.37,165.14 L491.75,165.09 L491.13,165.02 L490.52,164.94 L489.91,164.84 L489.30,164.74 L488.66,166.77 L487.93,168.79 L487.13,170.79 L486.25,172.77 L485.29,174.73 L484.25,176.67 L483.13,178.58 L481.94,180.46 L480.67,182.31 L479.33,184.13 L477.91,185.92 L476.42,187.67 L474.85,189.38 L473.21,191.04 L471.50,192.67 L469.73,194.24 L467.88,195.77 L465.96,197.25 L463.98,198.68 L461.94,200.05 L459.83,201.37 L457.66,202.63 L455.43,203.83 L453.14,204.97 L450.79,206.04 L448.39,207.05 L445.93,207.99 L443.43,208.86 L440.87,209.66 L438.26,210.39 L435.60,211.05 L432.90,211.63 L430.16,212.13 L427.37,212.55 L424.55,212.90 L421.69,213.16 L418.80,213.34 L415.87,213.44 L412.91,213.45 L409.92,213.38 L409.71,210.52 L409.58,207.69 L409.53,204.88 L409.56,202.10 L409.67,199.35 L409.86,196.63 L410.11,193.94 L410.45,191.29 L410.86,188.67 L411.33,186.09 L411.88,183.56 L412.50,181.06 L413.19,178.61 L413.94,176.20 L414.76,173.84 L415.63,171.53 L416.58,169.27 L417.58,167.07 L418.63,164.91 L419.75,162.81 L420.92,160.76 L422.14,158.78 L423.41,156.85 L424.74,154.98 L426.10,153.17 L427.52,151.42 L428.98,149.74 L430.48,148.12 L432.02,146.57 L433.60,145.08 L435.21,143.66 L436.86,142.31 L438.53,141.02 L440.24,139.81 L441.98,138.66 L443.74,137.59 L445.52,136.58 L447.33,135.65 L449.15,134.79 L450.99,134.00 L450.34,133.23 L449.70,132.44 L449.07,131.63 L448.47,130.79 L447.88,129.92 L447.31,129.03 L446.76,128.12 L446.23,127.18 L445.72,126.22 L445.23,125.23 L444.76,124.23 L444.32,123.20 L443.90,122.15 L443.50,121.08 L443.13,119.99 L442.78,118.89 L442.46,117.76 L442.17,116.61 L441.90,115.45 L441.66,114.27 L441.45,113.07 L441.27,111.86 L441.12,110.63 L441.00,109.39 L440.91,108.13 L440.84,106.86 L440.81,105.58 L440.82,104.29 L440.85,102.99 L440.92,101.67 L441.02,100.35 L441.15,99.02 L441.32,97.68 L441.52,96.34 L441.76,94.98 L442.03,93.63 L442.34,92.27 L442.68,90.90 L443.06,89.54 L443.47,88.17 L444.95,87.88 L446.43,87.62 L447.90,87.41 L449.36,87.24 L450.81,87.11 L452.26,87.01 L453.69,86.95 L455.10,86.93 L456.51,86.95 L457.90,87.01 L459.28,87.10 L460.64,87.23 L461.98,87.39 L463.31,87.58 L464.61,87.81 L465.90,88.08 L467.17,88.37 L468.42,88.70 L469.64,89.06 L470.85,89.45 L472.03,89.87 L473.18,90.32 L474.32,90.79 L475.42,91.30 L476.51,91.83 L477.56,92.38 L478.59,92.96 L479.59,93.57 L480.57,94.19 L481.51,94.84 L482.43,95.51 L483.31,96.21 L484.17,96.92 L485.00,97.65 L485.79,98.40 L486.56,99.16 L487.29,99.94 L487.99,100.74 L488.66,101.55 L489.30,102.37" fill="none" stroke="#3a78ee" stroke-width="1.1" stroke-opacity="0.68" stroke-linejoin="round"/>
<path d="M489.30,116.40 L489.65,116.34 L490.00,116.27 L490.35,116.22 L490.70,116.17 L491.06,116.13 L491.42,116.10 L491.78,116.07 L492.14,116.05 L492.51,116.04 L492.87,116.03 L493.24,116.04 L493.61,116.05 L493.98,116.06 L494.35,116.09 L494.72,116.12 L495.10,116.16 L495.47,116.21 L495.84,116.27 L496.21,116.33 L496.59,116.41 L496.96,116.49 L497.33,116.57 L497.71,116.67 L498.08,116.77 L498.45,116.89 L498.82,117.01 L499.19,117.13 L499.55,117.27 L499.92,117.41 L500.28,117.56 L500.64,117.72 L501.00,117.89 L501.36,118.07 L501.72,118.25 L502.07,118.44 L502.42,118.64 L502.77,118.85 L503.11,119.06 L503.45,119.28 L503.79,119.51 L503.91,119.95 L504.02,120.39 L504.12,120.83 L504.20,121.27 L504.28,121.71 L504.34,122.14 L504.39,122.57 L504.44,123.00 L504.47,123.43 L504.49,123.85 L504.49,124.27 L504.49,124.69 L504.48,125.10 L504.46,125.51 L504.42,125.92 L504.38,126.32 L504.33,126.71 L504.27,127.10 L504.20,127.48 L504.12,127.86 L504.03,128.24 L503.93,128.60 L503.82,128.96 L503.70,129.32 L503.58,129.67 L503.45,130.01 L503.31,130.34 L503.16,130.67 L503.01,130.99 L502.84,131.31 L502.67,131.61 L502.50,131.91 L502.32,132.20 L502.13,132.48 L501.93,132.76 L501.73,133.02 L501.53,133.28 L501.32,133.53 L501.10,133.77 L500.88,134.00 L501.07,134.23 L501.25,134.47 L501.43,134.72 L501.60,134.97 L501.77,135.23 L501.93,135.49 L502.09,135.77 L502.24,136.05 L502.38,136.34 L502.52,136.63 L502.65,136.93 L502.77,137.23 L502.89,137.55 L503.00,137.86 L503.10,138.19 L503.20,138.52 L503.28,138.85 L503.36,139.19 L503.43,139.53 L503.50,139.88 L503.55,140.23 L503.60,140.59 L503.64,140.95 L503.67,141.32 L503.69,141.69 L503.70,142.06 L503.70,142.44 L503.69,142.82 L503.68,143.20 L503.65,143.59 L503.62,143.98 L503.57,144.37 L503.52,144.76 L503.45,145.16 L503.37,145.55 L503.29,145.95 L503.19,146.35 L503.09,146.75 L502.97,147.14 L502.84,147.54 L502.53,147.76 L502.20,147.96 L501.88,148.16 L501.55,148.35 L501.22,148.53 L500.89,148.70 L500.56,148.87 L500.22,149.03 L499.88,149.18 L499.54,149.32 L499.20,149.46 L498.85,149.59 L498.51,149.71 L498.16,149.83 L497.82,149.94 L497.47,150.03 L497.12,150.13 L496.77,150.21 L496.42,150.29 L496.08,150.36 L495.73,150.42 L495.38,150.48 L495.03,150.52 L494.68,150.56 L494.33,150.60 L493.99,150.62 L493.64,150.64 L493.30,150.65 L492.96,150.66 L492.61,150.66 L492.27,150.65 L491.93,150.63 L491.60,150.61 L491.26,150.58 L490.93,150.54 L490.60,150.50 L490.27,150.45 L489.94,150.39 L489.62,150.33 L489.30,150.26 L488.96,151.37 L488.57,152.48 L488.15,153.58 L487.67,154.67 L487.16,155.75 L486.60,156.82 L486.00,157.87 L485.36,158.90 L484.67,159.92 L483.94,160.92 L483.18,161.91 L482.37,162.87 L481.52,163.81 L480.63,164.73 L479.71,165.62 L478.74,166.49 L477.74,167.34 L476.70,168.15 L475.62,168.94 L474.51,169.70 L473.37,170.43 L472.18,171.13 L470.97,171.79 L469.72,172.42 L468.45,173.02 L467.14,173.58 L465.80,174.10 L464.43,174.58 L463.04,175.03 L461.61,175.44 L460.16,175.80 L458.69,176.13 L457.20,176.41 L455.68,176.65 L454.13,176.85 L452.57,177.00 L450.99,177.11 L449.39,177.17 L447.78,177.18 L446.15,177.15 L446.08,175.55 L446.06,173.97 L446.09,172.40 L446.16,170.84 L446.28,169.31 L446.44,167.79 L446.64,166.29 L446.88,164.82 L447.17,163.36 L447.49,161.93 L447.86,160.53 L448.26,159.15 L448.70,157.79 L449.18,156.47 L449.70,155.17 L450.24,153.90 L450.83,152.66 L451.45,151.45 L452.09,150.27 L452.78,149.13 L453.49,148.02 L454.23,146.94 L454.99,145.90 L455.79,144.89 L456.61,143.92 L457.46,142.98 L458.33,142.08 L459.22,141.22 L460.13,140.40 L461.07,139.62 L462.02,138.87 L462.99,138.17 L463.98,137.50 L464.98,136.88 L466.00,136.29 L467.03,135.75 L468.07,135.25 L469.13,134.79 L470.19,134.38 L471.26,134.00 L470.77,133.64 L470.28,133.25 L469.81,132.85 L469.34,132.43 L468.88,131.99 L468.43,131.53 L467.99,131.05 L467.57,130.56 L467.15,130.04 L466.75,129.51 L466.35,128.97 L465.98,128.40 L465.61,127.82 L465.26,127.22 L464.92,126.61 L464.60,125.97 L464.30,125.33 L464.01,124.67 L463.73,123.99 L463.48,123.30 L463.24,122.60 L463.02,121.88 L462.81,121.15 L462.63,120.41 L462.46,119.66 L462.32,118.89 L462.19,118.11 L462.09,117.32 L462.00,116.53 L461.94,115.72 L461.90,114.90 L461.88,114.07 L461.88,113.24 L461.90,112.40 L461.95,111.55 L462.02,110.70 L462.11,109.84 L462.22,108.97 L462.36,108.10 L462.53,107.23 L463.41,107.07 L464.29,106.94 L465.16,106.83 L466.03,106.75 L466.89,106.69 L467.74,106.65 L468.59,106.64 L469.43,106.65 L470.26,106.68 L471.08,106.73 L471.89,106.80 L472.69,106.90 L473.48,107.02 L474.27,107.15 L475.03,107.31 L475.79,107.49 L476.54,107.68 L477.27,107.90 L477.98,108.13 L478.69,108.38 L479.38,108.65 L480.05,108.94 L480.71,109.24 L481.36,109.56 L481.99,109.89 L482.60,110.24 L483.19,110.60 L483.77,110.98 L484.33,111.37 L484.88,111.77 L485.41,112.19 L485.91,112.62 L486.40,113.06 L486.87,113.51 L487.33,113.97 L487.76,114.44 L488.17,114.92 L488.57,115.41 L488.94,115.90 L489.30,116.40" fill="none" stroke="#ffa10a" stroke-width="1.1" stroke-opacity="0.68" stroke-linejoin="round"/>
<circle cx="489.30" cy="112.31" r="2.5" fill="#990000"/>
<circle cx="510.40" cy="112.90" r="2.5" fill="#990000"/>
<circle cx="504.89" cy="134.00" r="2.5" fill="#990000"/>
<circle cx="508.99" cy="153.69" r="2.5" fill="#990000"/>
<circle cx="489.30" cy="157.16" r="2.5" fill="#990000"/>
<circle cx="437.33" cy="185.97" r="2.5" fill="#990000"/>
<circle cx="461.24" cy="134.00" r="2.5" fill="#990000"/>
<circle cx="456.54" cy="101.24" r="2.5" fill="#990000"/>
<path d="M489.30,99.87 L491.80,102.37 L489.30,104.87 L486.80,102.37Z" fill="#3a78ee"/>
<path d="M518.28,102.52 L520.78,105.02 L518.28,107.52 L515.78,105.02Z" fill="#3a78ee"/>
<path d="M509.57,131.50 L512.07,134.00 L509.57,136.50 L507.07,134.00Z" fill="#3a78ee"/>
<path d="M514.18,156.38 L516.68,158.88 L514.18,161.38 L511.68,158.88Z" fill="#3a78ee"/>
<path d="M489.30,162.24 L491.80,164.74 L489.30,167.24 L486.80,164.74Z" fill="#3a78ee"/>
<path d="M409.92,210.88 L412.42,213.38 L409.92,215.88 L407.42,213.38Z" fill="#3a78ee"/>
<path d="M450.99,131.50 L453.49,134.00 L450.99,136.50 L448.49,134.00Z" fill="#3a78ee"/>
<path d="M443.47,85.67 L445.97,88.17 L443.47,90.67 L440.97,88.17Z" fill="#3a78ee"/>
<polygon points="489.30,113.80 489.94,115.52 491.77,115.60 490.34,116.74 490.83,118.51 489.30,117.50 487.77,118.51 488.26,116.74 486.83,115.60 488.66,115.52" fill="#ffa10a"/>
<polygon points="503.79,116.91 504.43,118.63 506.26,118.71 504.83,119.85 505.32,121.61 503.79,120.60 502.26,121.61 502.75,119.85 501.32,118.71 503.15,118.63" fill="#ffa10a"/>
<polygon points="500.88,131.40 501.52,133.12 503.35,133.20 501.92,134.34 502.41,136.10 500.88,135.09 499.35,136.10 499.84,134.34 498.41,133.20 500.24,133.12" fill="#ffa10a"/>
<polygon points="502.84,144.94 503.49,146.66 505.32,146.74 503.88,147.88 504.37,149.65 502.84,148.64 501.32,149.65 501.81,147.88 500.37,146.74 502.20,146.66" fill="#ffa10a"/>
<polygon points="489.30,147.66 489.94,149.38 491.77,149.46 490.34,150.60 490.83,152.36 489.30,151.35 487.77,152.36 488.26,150.60 486.83,149.46 488.66,149.38" fill="#ffa10a"/>
<polygon points="446.15,174.55 446.79,176.27 448.62,176.35 447.19,177.49 447.68,179.26 446.15,178.24 444.62,179.26 445.11,177.49 443.67,176.35 445.51,176.27" fill="#ffa10a"/>
<polygon points="471.26,131.40 471.90,133.12 473.73,133.20 472.30,134.34 472.79,136.10 471.26,135.09 469.73,136.10 470.22,134.34 468.79,133.20 470.62,133.12" fill="#ffa10a"/>
<polygon points="462.53,104.63 463.17,106.34 465.00,106.42 463.56,107.56 464.05,109.33 462.53,108.32 461.00,109.33 461.49,107.56 460.05,106.42 461.88,106.34" fill="#ffa10a"/>
<rect x="0" y="258.6" width="602" height="2" fill="#fff"/>
<text x="172.7" y="11" text-anchor="middle" font-size="13.55" font-weight="bold" fill="#000">SRS plans &lt; 10 metastases</text>
<text x="484.2" y="11" text-anchor="middle" font-size="13.55" font-weight="bold" fill="#000">SRS plans ≥ 10 metastases</text>
<circle cx="4.60" cy="24.80" r="3.3" fill="#990000"/>
<text x="12.60" y="27.70" font-size="10.2" fill="#000">Original plan</text>
<path d="M4.60,36.95 L8.30,40.65 L4.60,44.35 L0.90,40.65Z" fill="#3a78ee"/>
<text x="12.60" y="43.55" font-size="10.2" fill="#000">0.5°/0.5 mm plan</text>
<polygon points="4.60,53.20 5.41,55.38 7.74,55.48 5.92,56.93 6.54,59.17 4.60,57.89 2.66,59.17 3.28,56.93 1.46,55.48 3.79,55.38" fill="#ffa10a"/>
<text x="12.60" y="59.40" font-size="10.2" fill="#000">0.2°/0.2 mm plan</text>
<circle cx="316.00" cy="26.10" r="3.3" fill="#990000"/>
<text x="324.00" y="29.00" font-size="10.2" fill="#000">Original plan</text>
<path d="M316.00,38.25 L319.70,41.95 L316.00,45.65 L312.30,41.95Z" fill="#3a78ee"/>
<text x="324.00" y="44.85" font-size="10.2" fill="#000">0.5°/0.5 mm plan</text>
<polygon points="316.00,54.50 316.81,56.68 319.14,56.78 317.32,58.23 317.94,60.47 316.00,59.19 314.06,60.47 314.68,58.23 312.86,56.78 315.19,56.68" fill="#ffa10a"/>
<text x="324.00" y="60.70" font-size="10.2" fill="#000">0.2°/0.2 mm plan</text>
<text x="178.15" y="250.7" text-anchor="middle" font-size="11.3" fill="#000">Total number of metastases</text>
<text x="489.65" y="252.1" text-anchor="middle" font-size="11.3" fill="#000">Total number of metastases</text>
<text transform="translate(61.3,157.0) rotate(-90)" text-anchor="middle" font-size="11.35" fill="#000">PTV Volume [cc]</text>
<text transform="translate(372.8,158.5) rotate(-90)" text-anchor="middle" font-size="11.35" fill="#000">PTV Volume [cc]</text>
</svg></body></html>
